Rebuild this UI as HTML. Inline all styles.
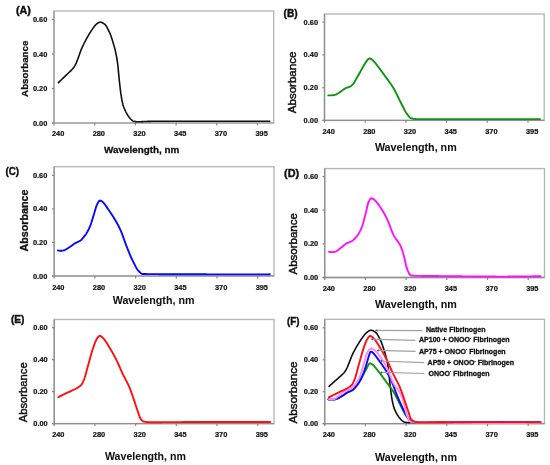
<!DOCTYPE html>
<html><head><meta charset="utf-8"><title>UV absorbance spectra of fibrinogen</title>
<style>
html,body{margin:0;padding:0;background:#fff;}
body{width:550px;height:465px;overflow:hidden;}
svg{display:block;}
text{font-family:'Liberation Sans', Arial, sans-serif;fill:#111;stroke:#111;stroke-width:0.3px;}
.tl{font-size:7.4px;font-weight:bold;stroke-width:0.2px;}
.pl{font-size:10.6px;font-weight:bold;stroke-width:0.4px;}
.lg{font-size:7px;font-weight:bold;}
</style></head>
<body>
<svg width="550" height="465" viewBox="0 0 550 465">
<rect width="550" height="465" fill="#fff"/>
<rect x="54.00" y="11.00" width="219.70" height="112.00" fill="none" stroke="#b8b8b8" stroke-width="1.4"/>
<line x1="54.00" y1="11.00" x2="54.00" y2="124.00" stroke="#a8a8a8" stroke-width="1.7"/>
<line x1="52.00" y1="123.00" x2="273.70" y2="123.00" stroke="#a8a8a8" stroke-width="1.7"/>
<line x1="51.80" y1="123.00" x2="54.00" y2="123.00" stroke="#888" stroke-width="1.2"/>
<text x="47.30" y="125.50" text-anchor="end" class="tl">0.00</text>
<line x1="51.80" y1="88.50" x2="54.00" y2="88.50" stroke="#888" stroke-width="1.2"/>
<text x="47.30" y="91.00" text-anchor="end" class="tl">0.20</text>
<line x1="51.80" y1="54.00" x2="54.00" y2="54.00" stroke="#888" stroke-width="1.2"/>
<text x="47.30" y="56.50" text-anchor="end" class="tl">0.40</text>
<line x1="51.80" y1="19.50" x2="54.00" y2="19.50" stroke="#888" stroke-width="1.2"/>
<text x="47.30" y="22.00" text-anchor="end" class="tl">0.60</text>
<line x1="54.00" y1="123.00" x2="54.00" y2="125.40" stroke="#888" stroke-width="1.2"/>
<text x="58.10" y="136.10" text-anchor="middle" class="tl">240</text>
<line x1="94.70" y1="123.00" x2="94.70" y2="125.40" stroke="#888" stroke-width="1.2"/>
<text x="98.80" y="136.10" text-anchor="middle" class="tl">280</text>
<line x1="135.40" y1="123.00" x2="135.40" y2="125.40" stroke="#888" stroke-width="1.2"/>
<text x="139.50" y="136.10" text-anchor="middle" class="tl">320</text>
<line x1="176.10" y1="123.00" x2="176.10" y2="125.40" stroke="#888" stroke-width="1.2"/>
<text x="180.20" y="136.10" text-anchor="middle" class="tl">345</text>
<line x1="216.80" y1="123.00" x2="216.80" y2="125.40" stroke="#888" stroke-width="1.2"/>
<text x="220.90" y="136.10" text-anchor="middle" class="tl">370</text>
<line x1="257.50" y1="123.00" x2="257.50" y2="125.40" stroke="#888" stroke-width="1.2"/>
<text x="261.60" y="136.10" text-anchor="middle" class="tl">395</text>

<path d="M58.40,82.63 L58.90,82.15 L59.40,81.67 L59.90,81.19 L60.40,80.71 L60.90,80.23 L61.40,79.75 L61.90,79.27 L62.40,78.79 L62.90,78.31 L63.40,77.83 L63.90,77.35 L64.40,76.87 L64.90,76.39 L65.40,75.91 L65.90,75.43 L66.40,74.95 L66.90,74.48 L67.40,74.00 L67.90,73.52 L68.40,73.04 L68.90,72.55 L69.40,72.07 L69.90,71.59 L70.40,71.11 L70.90,70.62 L71.40,70.12 L71.90,69.61 L72.40,69.07 L72.90,68.49 L73.40,67.85 L73.90,67.17 L74.40,66.44 L74.90,65.63 L75.40,64.71 L75.90,63.70 L76.40,62.59 L76.90,61.37 L77.40,60.08 L77.90,58.74 L78.40,57.39 L78.90,56.05 L79.40,54.65 L79.90,53.21 L80.40,51.78 L80.90,50.42 L81.40,49.17 L81.90,48.01 L82.40,46.90 L82.90,45.81 L83.40,44.76 L83.90,43.74 L84.40,42.75 L84.90,41.78 L85.40,40.83 L85.90,39.90 L86.40,38.98 L86.90,38.08 L87.40,37.18 L87.90,36.30 L88.40,35.42 L88.90,34.57 L89.40,33.73 L89.90,32.92 L90.40,32.12 L90.90,31.36 L91.40,30.61 L91.90,29.86 L92.40,29.12 L92.90,28.38 L93.40,27.66 L93.90,26.98 L94.40,26.33 L94.90,25.72 L95.40,25.17 L95.90,24.68 L96.40,24.23 L96.90,23.80 L97.40,23.40 L97.90,23.04 L98.40,22.74 L98.90,22.49 L99.40,22.31 L99.90,22.21 L100.40,22.19 L100.90,22.25 L101.40,22.37 L101.90,22.55 L102.40,22.78 L102.90,23.05 L103.40,23.36 L103.90,23.69 L104.40,24.04 L104.90,24.41 L105.40,24.88 L105.90,25.50 L106.40,26.25 L106.90,27.10 L107.40,28.03 L107.90,29.03 L108.40,30.06 L108.90,31.13 L109.40,32.19 L109.90,33.27 L110.40,34.47 L110.90,35.80 L111.40,37.24 L111.90,38.77 L112.40,40.37 L112.90,42.01 L113.40,43.69 L113.90,45.38 L114.40,47.12 L114.90,49.02 L115.40,51.11 L115.90,53.42 L116.40,55.95 L116.90,58.74 L117.40,61.80 L117.90,65.67 L118.40,70.86 L118.90,76.44 L119.40,81.43 L119.90,85.82 L120.40,90.08 L120.90,93.97 L121.40,97.25 L121.90,99.94 L122.40,102.40 L122.90,104.54 L123.40,106.25 L123.90,107.51 L124.40,108.70 L124.90,109.85 L125.40,110.95 L125.90,112.00 L126.40,112.99 L126.90,113.91 L127.40,114.75 L127.90,115.51 L128.40,116.19 L128.90,116.86 L129.40,117.51 L129.90,118.14 L130.40,118.73 L130.90,119.27 L131.40,119.74 L131.90,120.14 L132.40,120.53 L132.90,120.90 L133.40,121.21 L133.90,121.41 L134.40,121.48 L134.90,121.54 L135.40,121.60 L135.90,121.65 L136.40,121.70 L136.90,121.74 L137.40,121.77 L137.90,121.79 L138.40,121.80 L138.90,121.80 L139.40,121.78 L139.90,121.76 L140.40,121.73 L140.90,121.71 L141.40,121.68 L141.90,121.65 L142.40,121.63 L142.90,121.60 L143.40,121.57 L143.90,121.54 L144.40,121.52 L144.90,121.50 L145.40,121.48 L145.90,121.46 L146.40,121.45 L146.90,121.44 L147.40,121.42 L147.90,121.41 L148.40,121.40 L148.90,121.38 L149.40,121.37 L149.90,121.36 L150.40,121.35 L150.90,121.33 L151.40,121.32 L151.90,121.31 L152.40,121.30 L152.90,121.30 L153.40,121.29 L153.90,121.28 L154.40,121.28 L154.90,121.28 L155.40,121.28 L155.90,121.28 L156.40,121.28 L156.90,121.28 L157.40,121.28 L157.90,121.28 L158.40,121.28 L158.90,121.28 L159.40,121.28 L159.90,121.28 L160.40,121.28 L160.90,121.28 L161.40,121.28 L161.90,121.28 L162.40,121.28 L162.90,121.28 L163.40,121.28 L163.90,121.28 L164.40,121.28 L164.90,121.28 L165.40,121.28 L165.90,121.28 L166.40,121.28 L166.90,121.28 L167.40,121.28 L167.90,121.28 L168.40,121.28 L168.90,121.28 L169.40,121.28 L169.90,121.28 L170.40,121.28 L170.90,121.28 L171.40,121.28 L171.90,121.28 L172.40,121.28 L172.90,121.28 L173.40,121.28 L173.90,121.28 L174.40,121.28 L174.90,121.28 L175.40,121.28 L175.90,121.28 L176.40,121.28 L176.90,121.28 L177.40,121.28 L177.90,121.28 L178.40,121.28 L178.90,121.28 L179.40,121.28 L179.90,121.28 L180.40,121.28 L180.90,121.28 L181.40,121.28 L181.90,121.28 L182.40,121.28 L182.90,121.28 L183.40,121.28 L183.90,121.28 L184.40,121.28 L184.90,121.28 L185.40,121.28 L185.90,121.28 L186.40,121.28 L186.90,121.28 L187.40,121.28 L187.90,121.28 L188.40,121.28 L188.90,121.28 L189.40,121.28 L189.90,121.28 L190.40,121.28 L190.90,121.28 L191.40,121.28 L191.90,121.28 L192.40,121.28 L192.90,121.28 L193.40,121.28 L193.90,121.28 L194.40,121.28 L194.90,121.28 L195.40,121.28 L195.90,121.28 L196.40,121.28 L196.90,121.28 L197.40,121.28 L197.90,121.28 L198.40,121.28 L198.90,121.28 L199.40,121.28 L199.90,121.28 L200.40,121.28 L200.90,121.28 L201.40,121.28 L201.90,121.28 L202.40,121.28 L202.90,121.28 L203.40,121.28 L203.90,121.28 L204.40,121.28 L204.90,121.28 L205.40,121.28 L205.90,121.28 L206.40,121.28 L206.90,121.28 L207.40,121.28 L207.90,121.28 L208.40,121.28 L208.90,121.28 L209.40,121.28 L209.90,121.28 L210.40,121.28 L210.90,121.28 L211.40,121.28 L211.90,121.28 L212.40,121.28 L212.90,121.28 L213.40,121.28 L213.90,121.28 L214.40,121.28 L214.90,121.28 L215.40,121.28 L215.90,121.28 L216.40,121.28 L216.90,121.28 L217.40,121.28 L217.90,121.28 L218.40,121.28 L218.90,121.28 L219.40,121.28 L219.90,121.28 L220.40,121.28 L220.90,121.28 L221.40,121.28 L221.90,121.28 L222.40,121.28 L222.90,121.28 L223.40,121.28 L223.90,121.28 L224.40,121.28 L224.90,121.28 L225.40,121.28 L225.90,121.28 L226.40,121.28 L226.90,121.28 L227.40,121.28 L227.90,121.28 L228.40,121.28 L228.90,121.28 L229.40,121.28 L229.90,121.28 L230.40,121.28 L230.90,121.28 L231.40,121.28 L231.90,121.28 L232.40,121.28 L232.90,121.28 L233.40,121.28 L233.90,121.28 L234.40,121.28 L234.90,121.28 L235.40,121.28 L235.90,121.28 L236.40,121.28 L236.90,121.28 L237.40,121.28 L237.90,121.28 L238.40,121.28 L238.90,121.28 L239.40,121.28 L239.90,121.28 L240.40,121.28 L240.90,121.28 L241.40,121.28 L241.90,121.28 L242.40,121.28 L242.90,121.28 L243.40,121.28 L243.90,121.28 L244.40,121.28 L244.90,121.28 L245.40,121.28 L245.90,121.28 L246.40,121.28 L246.90,121.28 L247.40,121.28 L247.90,121.28 L248.40,121.28 L248.90,121.28 L249.40,121.28 L249.90,121.28 L250.40,121.28 L250.90,121.28 L251.40,121.28 L251.90,121.28 L252.40,121.28 L252.90,121.28 L253.40,121.28 L253.90,121.28 L254.40,121.28 L254.90,121.28 L255.40,121.28 L255.90,121.28 L256.40,121.28 L256.90,121.28 L257.40,121.28 L257.90,121.28 L258.40,121.28 L258.90,121.28 L259.40,121.28 L259.90,121.28 L260.40,121.28 L260.90,121.28 L261.40,121.28 L261.90,121.28 L262.40,121.28 L262.90,121.28 L263.40,121.28 L263.90,121.28 L264.40,121.28 L264.90,121.28 L265.40,121.28 L265.90,121.28 L266.40,121.28 L266.90,121.28 L267.40,121.28 L267.90,121.28 L268.40,121.28 L268.90,121.28 L269.40,121.28 L269.80,121.28" fill="none" stroke="#111" stroke-width="1.6" stroke-linejoin="round" stroke-linecap="round"/>

<text x="15.90" y="13.60" class="pl" textLength="15.00" lengthAdjust="spacingAndGlyphs">(A)</text>
<text transform="translate(28.10,68.80) rotate(-90)" text-anchor="middle" style="font-size:9.70px;font-weight:bold;stroke-width:0.3px" textLength="56.20" lengthAdjust="spacingAndGlyphs">Absorbance</text>
<text x="104.00" y="153.00" style="font-size:9.80px;font-weight:bold;stroke-width:0.3px" textLength="75.30" lengthAdjust="spacingAndGlyphs">Wavelength, nm</text>
<rect x="324.50" y="14.00" width="219.70" height="106.40" fill="none" stroke="#b8b8b8" stroke-width="1.4"/>
<line x1="324.50" y1="14.00" x2="324.50" y2="121.40" stroke="#8e8e8e" stroke-width="1.3"/>
<line x1="322.50" y1="120.40" x2="544.20" y2="120.40" stroke="#8e8e8e" stroke-width="1.3"/>
<line x1="322.30" y1="120.40" x2="324.50" y2="120.40" stroke="#888" stroke-width="1.2"/>
<text x="318.00" y="122.90" text-anchor="end" class="tl">0.00</text>
<line x1="322.30" y1="87.63" x2="324.50" y2="87.63" stroke="#888" stroke-width="1.2"/>
<text x="318.00" y="90.13" text-anchor="end" class="tl">0.20</text>
<line x1="322.30" y1="54.87" x2="324.50" y2="54.87" stroke="#888" stroke-width="1.2"/>
<text x="318.00" y="57.37" text-anchor="end" class="tl">0.40</text>
<line x1="322.30" y1="22.10" x2="324.50" y2="22.10" stroke="#888" stroke-width="1.2"/>
<text x="318.00" y="24.60" text-anchor="end" class="tl">0.60</text>
<line x1="324.50" y1="120.40" x2="324.50" y2="122.80" stroke="#888" stroke-width="1.2"/>
<text x="328.60" y="134.00" text-anchor="middle" class="tl">240</text>
<line x1="365.20" y1="120.40" x2="365.20" y2="122.80" stroke="#888" stroke-width="1.2"/>
<text x="369.30" y="134.00" text-anchor="middle" class="tl">280</text>
<line x1="405.90" y1="120.40" x2="405.90" y2="122.80" stroke="#888" stroke-width="1.2"/>
<text x="410.00" y="134.00" text-anchor="middle" class="tl">320</text>
<line x1="446.60" y1="120.40" x2="446.60" y2="122.80" stroke="#888" stroke-width="1.2"/>
<text x="450.70" y="134.00" text-anchor="middle" class="tl">345</text>
<line x1="487.30" y1="120.40" x2="487.30" y2="122.80" stroke="#888" stroke-width="1.2"/>
<text x="491.40" y="134.00" text-anchor="middle" class="tl">370</text>
<line x1="528.00" y1="120.40" x2="528.00" y2="122.80" stroke="#888" stroke-width="1.2"/>
<text x="532.10" y="134.00" text-anchor="middle" class="tl">395</text>

<path d="M328.30,95.33 L328.80,95.37 L329.30,95.39 L329.80,95.41 L330.30,95.40 L330.80,95.39 L331.30,95.36 L331.80,95.32 L332.30,95.27 L332.80,95.21 L333.30,95.13 L333.80,95.05 L334.30,94.95 L334.80,94.84 L335.30,94.70 L335.80,94.51 L336.30,94.29 L336.80,94.03 L337.30,93.76 L337.80,93.48 L338.30,93.19 L338.80,92.88 L339.30,92.55 L339.80,92.21 L340.30,91.86 L340.80,91.51 L341.30,91.17 L341.80,90.82 L342.30,90.46 L342.80,90.10 L343.30,89.74 L343.80,89.38 L344.30,89.03 L344.80,88.71 L345.30,88.40 L345.80,88.13 L346.30,87.90 L346.80,87.71 L347.30,87.54 L347.80,87.39 L348.30,87.23 L348.80,87.07 L349.30,86.88 L349.80,86.65 L350.30,86.38 L350.80,86.08 L351.30,85.73 L351.80,85.33 L352.30,84.89 L352.80,84.40 L353.30,83.84 L353.80,83.15 L354.30,82.35 L354.80,81.48 L355.30,80.57 L355.80,79.66 L356.30,78.79 L356.80,77.93 L357.30,77.06 L357.80,76.19 L358.30,75.31 L358.80,74.43 L359.30,73.54 L359.80,72.66 L360.30,71.78 L360.80,70.90 L361.30,70.01 L361.80,69.10 L362.30,68.20 L362.80,67.29 L363.30,66.40 L363.80,65.53 L364.30,64.68 L364.80,63.87 L365.30,63.08 L365.80,62.28 L366.30,61.50 L366.80,60.77 L367.30,60.12 L367.80,59.56 L368.30,59.13 L368.80,58.76 L369.30,58.52 L369.80,58.48 L370.30,58.60 L370.80,58.82 L371.30,59.11 L371.80,59.47 L372.30,59.86 L372.80,60.29 L373.30,60.76 L373.80,61.27 L374.30,61.82 L374.80,62.40 L375.30,63.01 L375.80,63.64 L376.30,64.28 L376.80,64.94 L377.30,65.59 L377.80,66.25 L378.30,66.90 L378.80,67.54 L379.30,68.19 L379.80,68.85 L380.30,69.52 L380.80,70.20 L381.30,70.88 L381.80,71.57 L382.30,72.26 L382.80,72.96 L383.30,73.65 L383.80,74.35 L384.30,75.06 L384.80,75.75 L385.30,76.45 L385.80,77.15 L386.30,77.84 L386.80,78.52 L387.30,79.19 L387.80,79.86 L388.30,80.53 L388.80,81.20 L389.30,81.87 L389.80,82.56 L390.30,83.25 L390.80,83.96 L391.30,84.68 L391.80,85.43 L392.30,86.19 L392.80,86.98 L393.30,87.80 L393.80,88.66 L394.30,89.56 L394.80,90.49 L395.30,91.45 L395.80,92.43 L396.30,93.43 L396.80,94.45 L397.30,95.47 L397.80,96.50 L398.30,97.53 L398.80,98.55 L399.30,99.56 L399.80,100.56 L400.30,101.53 L400.80,102.50 L401.30,103.49 L401.80,104.50 L402.30,105.51 L402.80,106.53 L403.30,107.53 L403.80,108.53 L404.30,109.49 L404.80,110.43 L405.30,111.32 L405.80,112.16 L406.30,112.94 L406.80,113.66 L407.30,114.36 L407.80,115.04 L408.30,115.71 L408.80,116.33 L409.30,116.89 L409.80,117.38 L410.30,117.79 L410.80,118.09 L411.30,118.27 L411.80,118.39 L412.30,118.50 L412.80,118.61 L413.30,118.71 L413.80,118.80 L414.30,118.88 L414.80,118.96 L415.30,119.01 L415.80,119.06 L416.30,119.08 L416.80,119.09 L417.30,119.09 L417.80,119.09 L418.30,119.09 L418.80,119.09 L419.30,119.09 L419.80,119.09 L420.30,119.09 L420.80,119.09 L421.30,119.09 L421.80,119.09 L422.30,119.09 L422.80,119.09 L423.30,119.09 L423.80,119.09 L424.30,119.09 L424.80,119.09 L425.30,119.09 L425.80,119.09 L426.30,119.09 L426.80,119.09 L427.30,119.09 L427.80,119.09 L428.30,119.09 L428.80,119.09 L429.30,119.09 L429.80,119.09 L430.30,119.09 L430.80,119.09 L431.30,119.09 L431.80,119.09 L432.30,119.09 L432.80,119.09 L433.30,119.09 L433.80,119.09 L434.30,119.09 L434.80,119.09 L435.30,119.09 L435.80,119.09 L436.30,119.09 L436.80,119.09 L437.30,119.09 L437.80,119.09 L438.30,119.09 L438.80,119.09 L439.30,119.09 L439.80,119.09 L440.30,119.09 L440.80,119.09 L441.30,119.09 L441.80,119.09 L442.30,119.09 L442.80,119.09 L443.30,119.09 L443.80,119.09 L444.30,119.09 L444.80,119.09 L445.30,119.09 L445.80,119.09 L446.30,119.09 L446.80,119.09 L447.30,119.09 L447.80,119.09 L448.30,119.09 L448.80,119.09 L449.30,119.09 L449.80,119.09 L450.30,119.09 L450.80,119.09 L451.30,119.09 L451.80,119.09 L452.30,119.09 L452.80,119.09 L453.30,119.09 L453.80,119.09 L454.30,119.09 L454.80,119.09 L455.30,119.09 L455.80,119.09 L456.30,119.09 L456.80,119.09 L457.30,119.09 L457.80,119.09 L458.30,119.09 L458.80,119.09 L459.30,119.09 L459.80,119.09 L460.30,119.09 L460.80,119.09 L461.30,119.09 L461.80,119.09 L462.30,119.09 L462.80,119.09 L463.30,119.09 L463.80,119.09 L464.30,119.09 L464.80,119.09 L465.30,119.09 L465.80,119.09 L466.30,119.09 L466.80,119.09 L467.30,119.09 L467.80,119.09 L468.30,119.09 L468.80,119.09 L469.30,119.09 L469.80,119.09 L470.30,119.09 L470.80,119.09 L471.30,119.09 L471.80,119.09 L472.30,119.09 L472.80,119.09 L473.30,119.09 L473.80,119.09 L474.30,119.09 L474.80,119.09 L475.30,119.09 L475.80,119.09 L476.30,119.09 L476.80,119.09 L477.30,119.09 L477.80,119.09 L478.30,119.09 L478.80,119.09 L479.30,119.09 L479.80,119.09 L480.30,119.09 L480.80,119.09 L481.30,119.09 L481.80,119.09 L482.30,119.09 L482.80,119.09 L483.30,119.09 L483.80,119.09 L484.30,119.09 L484.80,119.09 L485.30,119.09 L485.80,119.09 L486.30,119.09 L486.80,119.09 L487.30,119.09 L487.80,119.09 L488.30,119.09 L488.80,119.09 L489.30,119.09 L489.80,119.09 L490.30,119.09 L490.80,119.09 L491.30,119.09 L491.80,119.09 L492.30,119.09 L492.80,119.09 L493.30,119.09 L493.80,119.09 L494.30,119.09 L494.80,119.09 L495.30,119.09 L495.80,119.09 L496.30,119.09 L496.80,119.09 L497.30,119.09 L497.80,119.09 L498.30,119.09 L498.80,119.09 L499.30,119.09 L499.80,119.09 L500.30,119.09 L500.80,119.09 L501.30,119.09 L501.80,119.09 L502.30,119.09 L502.80,119.09 L503.30,119.09 L503.80,119.09 L504.30,119.09 L504.80,119.09 L505.30,119.09 L505.80,119.09 L506.30,119.09 L506.80,119.09 L507.30,119.09 L507.80,119.09 L508.30,119.09 L508.80,119.09 L509.30,119.09 L509.80,119.09 L510.30,119.09 L510.80,119.09 L511.30,119.09 L511.80,119.09 L512.30,119.09 L512.80,119.09 L513.30,119.09 L513.80,119.09 L514.30,119.09 L514.80,119.09 L515.30,119.09 L515.80,119.09 L516.30,119.09 L516.80,119.09 L517.30,119.09 L517.80,119.09 L518.30,119.09 L518.80,119.09 L519.30,119.09 L519.80,119.09 L520.30,119.09 L520.80,119.09 L521.30,119.09 L521.80,119.09 L522.30,119.09 L522.80,119.09 L523.30,119.09 L523.80,119.09 L524.30,119.09 L524.80,119.09 L525.30,119.09 L525.80,119.09 L526.30,119.09 L526.80,119.09 L527.30,119.09 L527.80,119.09 L528.30,119.09 L528.80,119.09 L529.30,119.09 L529.80,119.09 L530.30,119.09 L530.80,119.09 L531.30,119.09 L531.80,119.09 L532.30,119.09 L532.80,119.09 L533.30,119.09 L533.80,119.09 L534.30,119.09 L534.80,119.09 L535.30,119.09 L535.80,119.09 L536.30,119.09 L536.80,119.09 L537.30,119.09 L537.80,119.09 L538.30,119.09 L538.80,119.09 L539.30,119.09 L539.80,119.09 L540.00,119.09" fill="none" stroke="#109410" stroke-width="1.9" stroke-linejoin="round" stroke-linecap="round"/>

<text x="283.60" y="16.80" class="pl" textLength="14.10" lengthAdjust="spacingAndGlyphs">(B)</text>
<text transform="translate(296.40,82.45) rotate(-90)" text-anchor="middle" style="font-size:11.50px;font-weight:normal;stroke-width:0.45px" textLength="61.50" lengthAdjust="spacingAndGlyphs">Absorbance</text>
<text x="374.90" y="151.30" style="font-size:10.70px;font-weight:bold;stroke-width:0.05px" textLength="81.80" lengthAdjust="spacingAndGlyphs">Wavelength, nm</text>
<rect x="54.20" y="166.70" width="219.80" height="109.30" fill="none" stroke="#b8b8b8" stroke-width="1.4"/>
<line x1="54.20" y1="166.70" x2="54.20" y2="277.00" stroke="#9c9c9c" stroke-width="1.5"/>
<line x1="52.20" y1="276.00" x2="274.00" y2="276.00" stroke="#9c9c9c" stroke-width="1.5"/>
<line x1="52.00" y1="276.00" x2="54.20" y2="276.00" stroke="#888" stroke-width="1.2"/>
<text x="47.30" y="278.50" text-anchor="end" class="tl">0.00</text>
<line x1="52.00" y1="242.47" x2="54.20" y2="242.47" stroke="#888" stroke-width="1.2"/>
<text x="47.30" y="244.97" text-anchor="end" class="tl">0.20</text>
<line x1="52.00" y1="208.93" x2="54.20" y2="208.93" stroke="#888" stroke-width="1.2"/>
<text x="47.30" y="211.43" text-anchor="end" class="tl">0.40</text>
<line x1="52.00" y1="175.40" x2="54.20" y2="175.40" stroke="#888" stroke-width="1.2"/>
<text x="47.30" y="177.90" text-anchor="end" class="tl">0.60</text>
<line x1="54.20" y1="276.00" x2="54.20" y2="278.40" stroke="#888" stroke-width="1.2"/>
<text x="58.30" y="289.80" text-anchor="middle" class="tl">240</text>
<line x1="94.90" y1="276.00" x2="94.90" y2="278.40" stroke="#888" stroke-width="1.2"/>
<text x="99.00" y="289.80" text-anchor="middle" class="tl">280</text>
<line x1="135.60" y1="276.00" x2="135.60" y2="278.40" stroke="#888" stroke-width="1.2"/>
<text x="139.70" y="289.80" text-anchor="middle" class="tl">320</text>
<line x1="176.30" y1="276.00" x2="176.30" y2="278.40" stroke="#888" stroke-width="1.2"/>
<text x="180.40" y="289.80" text-anchor="middle" class="tl">345</text>
<line x1="217.00" y1="276.00" x2="217.00" y2="278.40" stroke="#888" stroke-width="1.2"/>
<text x="221.10" y="289.80" text-anchor="middle" class="tl">370</text>
<line x1="257.70" y1="276.00" x2="257.70" y2="278.40" stroke="#888" stroke-width="1.2"/>
<text x="261.80" y="289.80" text-anchor="middle" class="tl">395</text>

<path d="M57.90,250.51 L58.40,250.59 L58.90,250.66 L59.40,250.71 L59.90,250.75 L60.40,250.76 L60.90,250.76 L61.40,250.74 L61.90,250.70 L62.40,250.63 L62.90,250.54 L63.40,250.43 L63.90,250.29 L64.40,250.11 L64.90,249.90 L65.40,249.66 L65.90,249.40 L66.40,249.12 L66.90,248.82 L67.40,248.50 L67.90,248.19 L68.40,247.86 L68.90,247.54 L69.40,247.22 L69.90,246.91 L70.40,246.57 L70.90,246.23 L71.40,245.87 L71.90,245.51 L72.40,245.15 L72.90,244.78 L73.40,244.42 L73.90,244.07 L74.40,243.72 L74.90,243.39 L75.40,243.08 L75.90,242.79 L76.40,242.55 L76.90,242.32 L77.40,242.11 L77.90,241.90 L78.40,241.69 L78.90,241.46 L79.40,241.21 L79.90,240.92 L80.40,240.58 L80.90,240.18 L81.40,239.72 L81.90,239.22 L82.40,238.67 L82.90,238.08 L83.40,237.47 L83.90,236.84 L84.40,236.20 L84.90,235.55 L85.40,234.89 L85.90,234.18 L86.40,233.41 L86.90,232.60 L87.40,231.73 L87.90,230.81 L88.40,229.84 L88.90,228.82 L89.40,227.76 L89.90,226.65 L90.40,225.40 L90.90,224.02 L91.40,222.53 L91.90,220.96 L92.40,219.35 L92.90,217.71 L93.40,216.09 L93.90,214.49 L94.40,212.76 L94.90,210.94 L95.40,209.15 L95.90,207.48 L96.40,206.06 L96.90,204.91 L97.40,203.82 L97.90,202.82 L98.40,201.95 L98.90,201.25 L99.40,200.77 L99.90,200.56 L100.40,200.58 L100.90,200.72 L101.40,200.96 L101.90,201.28 L102.40,201.68 L102.90,202.15 L103.40,202.67 L103.90,203.24 L104.40,203.86 L104.90,204.52 L105.40,205.20 L105.90,205.91 L106.40,206.64 L106.90,207.37 L107.40,208.11 L107.90,208.84 L108.40,209.55 L108.90,210.27 L109.40,210.99 L109.90,211.72 L110.40,212.45 L110.90,213.19 L111.40,213.93 L111.90,214.69 L112.40,215.45 L112.90,216.23 L113.40,217.02 L113.90,217.82 L114.40,218.64 L114.90,219.47 L115.40,220.32 L115.90,221.18 L116.40,222.06 L116.90,222.96 L117.40,223.88 L117.90,224.82 L118.40,225.78 L118.90,226.77 L119.40,227.79 L119.90,228.83 L120.40,229.90 L120.90,231.01 L121.40,232.20 L121.90,233.47 L122.40,234.80 L122.90,236.18 L123.40,237.58 L123.90,239.01 L124.40,240.44 L124.90,241.86 L125.40,243.25 L125.90,244.61 L126.40,245.90 L126.90,247.16 L127.40,248.41 L127.90,249.65 L128.40,250.89 L128.90,252.12 L129.40,253.34 L129.90,254.53 L130.40,255.71 L130.90,256.87 L131.40,257.99 L131.90,259.09 L132.40,260.16 L132.90,261.18 L133.40,262.18 L133.90,263.17 L134.40,264.17 L134.90,265.15 L135.40,266.10 L135.90,267.03 L136.40,267.90 L136.90,268.72 L137.40,269.48 L137.90,270.16 L138.40,270.76 L138.90,271.28 L139.40,271.80 L139.90,272.30 L140.40,272.77 L140.90,273.19 L141.40,273.54 L141.90,273.80 L142.40,273.96 L142.90,273.99 L143.40,274.00 L143.90,274.01 L144.40,274.03 L144.90,274.04 L145.40,274.05 L145.90,274.06 L146.40,274.07 L146.90,274.08 L147.40,274.08 L147.90,274.09 L148.40,274.10 L148.90,274.11 L149.40,274.12 L149.90,274.12 L150.40,274.13 L150.90,274.14 L151.40,274.14 L151.90,274.15 L152.40,274.15 L152.90,274.15 L153.40,274.15 L153.90,274.16 L154.40,274.16 L154.90,274.16 L155.40,274.16 L155.90,274.16 L156.40,274.17 L156.90,274.17 L157.40,274.17 L157.90,274.17 L158.40,274.17 L158.90,274.17 L159.40,274.18 L159.90,274.18 L160.40,274.18 L160.90,274.18 L161.40,274.18 L161.90,274.19 L162.40,274.19 L162.90,274.19 L163.40,274.19 L163.90,274.19 L164.40,274.20 L164.90,274.20 L165.40,274.20 L165.90,274.20 L166.40,274.20 L166.90,274.21 L167.40,274.21 L167.90,274.21 L168.40,274.21 L168.90,274.22 L169.40,274.22 L169.90,274.22 L170.40,274.22 L170.90,274.22 L171.40,274.23 L171.90,274.23 L172.40,274.23 L172.90,274.23 L173.40,274.23 L173.90,274.24 L174.40,274.24 L174.90,274.24 L175.40,274.24 L175.90,274.24 L176.40,274.25 L176.90,274.25 L177.40,274.25 L177.90,274.25 L178.40,274.25 L178.90,274.26 L179.40,274.26 L179.90,274.26 L180.40,274.26 L180.90,274.26 L181.40,274.27 L181.90,274.27 L182.40,274.27 L182.90,274.27 L183.40,274.27 L183.90,274.28 L184.40,274.28 L184.90,274.28 L185.40,274.28 L185.90,274.28 L186.40,274.28 L186.90,274.29 L187.40,274.29 L187.90,274.29 L188.40,274.29 L188.90,274.29 L189.40,274.29 L189.90,274.30 L190.40,274.30 L190.90,274.30 L191.40,274.30 L191.90,274.30 L192.40,274.30 L192.90,274.30 L193.40,274.31 L193.90,274.31 L194.40,274.31 L194.90,274.31 L195.40,274.31 L195.90,274.31 L196.40,274.31 L196.90,274.31 L197.40,274.31 L197.90,274.32 L198.40,274.32 L198.90,274.32 L199.40,274.32 L199.90,274.32 L200.40,274.32 L200.90,274.32 L201.40,274.32 L201.90,274.32 L202.40,274.32 L202.90,274.32 L203.40,274.32 L203.90,274.32 L204.40,274.32 L204.90,274.32 L205.40,274.32 L205.90,274.32 L206.40,274.32 L206.90,274.33 L207.40,274.33 L207.90,274.33 L208.40,274.33 L208.90,274.33 L209.40,274.33 L209.90,274.33 L210.40,274.33 L210.90,274.33 L211.40,274.33 L211.90,274.33 L212.40,274.33 L212.90,274.33 L213.40,274.33 L213.90,274.33 L214.40,274.33 L214.90,274.33 L215.40,274.33 L215.90,274.33 L216.40,274.33 L216.90,274.33 L217.40,274.33 L217.90,274.33 L218.40,274.33 L218.90,274.33 L219.40,274.33 L219.90,274.33 L220.40,274.33 L220.90,274.33 L221.40,274.33 L221.90,274.33 L222.40,274.33 L222.90,274.33 L223.40,274.33 L223.90,274.33 L224.40,274.33 L224.90,274.33 L225.40,274.34 L225.90,274.34 L226.40,274.34 L226.90,274.34 L227.40,274.34 L227.90,274.34 L228.40,274.34 L228.90,274.34 L229.40,274.34 L229.90,274.34 L230.40,274.34 L230.90,274.34 L231.40,274.34 L231.90,274.34 L232.40,274.34 L232.90,274.34 L233.40,274.34 L233.90,274.34 L234.40,274.34 L234.90,274.34 L235.40,274.34 L235.90,274.34 L236.40,274.34 L236.90,274.34 L237.40,274.34 L237.90,274.34 L238.40,274.34 L238.90,274.34 L239.40,274.34 L239.90,274.34 L240.40,274.34 L240.90,274.34 L241.40,274.34 L241.90,274.34 L242.40,274.34 L242.90,274.34 L243.40,274.34 L243.90,274.34 L244.40,274.34 L244.90,274.34 L245.40,274.34 L245.90,274.34 L246.40,274.34 L246.90,274.34 L247.40,274.34 L247.90,274.34 L248.40,274.34 L248.90,274.34 L249.40,274.34 L249.90,274.34 L250.40,274.34 L250.90,274.34 L251.40,274.34 L251.90,274.34 L252.40,274.34 L252.90,274.34 L253.40,274.34 L253.90,274.34 L254.40,274.34 L254.90,274.34 L255.40,274.34 L255.90,274.34 L256.40,274.34 L256.90,274.33 L257.40,274.33 L257.90,274.33 L258.40,274.33 L258.90,274.33 L259.40,274.33 L259.90,274.33 L260.40,274.33 L260.90,274.33 L261.40,274.33 L261.90,274.33 L262.40,274.33 L262.90,274.33 L263.40,274.33 L263.90,274.33 L264.40,274.33 L264.90,274.33 L265.40,274.33 L265.90,274.33 L266.40,274.33 L266.90,274.33 L267.40,274.33 L267.90,274.33 L268.40,274.33 L268.90,274.32 L269.40,274.32 L269.80,274.32" fill="none" stroke="#0a0af8" stroke-width="1.9" stroke-linejoin="round" stroke-linecap="round"/>

<text x="5.50" y="175.00" class="pl" textLength="13.60" lengthAdjust="spacingAndGlyphs">(C)</text>
<text transform="translate(27.60,220.50) rotate(-90)" text-anchor="middle" style="font-size:10.70px;font-weight:bold;stroke-width:0.3px" textLength="62.10" lengthAdjust="spacingAndGlyphs">Absorbance</text>
<text x="112.70" y="303.70" style="font-size:10.70px;font-weight:bold;stroke-width:0.05px" textLength="81.80" lengthAdjust="spacingAndGlyphs">Wavelength, nm</text>
<rect x="324.70" y="168.60" width="219.80" height="108.90" fill="none" stroke="#b8b8b8" stroke-width="1.4"/>
<line x1="324.70" y1="168.60" x2="324.70" y2="278.50" stroke="#8e8e8e" stroke-width="1.3"/>
<line x1="322.70" y1="277.50" x2="544.50" y2="277.50" stroke="#8e8e8e" stroke-width="1.3"/>
<line x1="322.50" y1="277.50" x2="324.70" y2="277.50" stroke="#888" stroke-width="1.2"/>
<text x="318.20" y="280.00" text-anchor="end" class="tl">0.00</text>
<line x1="322.50" y1="243.83" x2="324.70" y2="243.83" stroke="#888" stroke-width="1.2"/>
<text x="318.20" y="246.33" text-anchor="end" class="tl">0.20</text>
<line x1="322.50" y1="210.17" x2="324.70" y2="210.17" stroke="#888" stroke-width="1.2"/>
<text x="318.20" y="212.67" text-anchor="end" class="tl">0.40</text>
<line x1="322.50" y1="176.50" x2="324.70" y2="176.50" stroke="#888" stroke-width="1.2"/>
<text x="318.20" y="179.00" text-anchor="end" class="tl">0.60</text>
<line x1="324.70" y1="277.50" x2="324.70" y2="279.90" stroke="#888" stroke-width="1.2"/>
<text x="328.80" y="290.60" text-anchor="middle" class="tl">240</text>
<line x1="365.40" y1="277.50" x2="365.40" y2="279.90" stroke="#888" stroke-width="1.2"/>
<text x="369.50" y="290.60" text-anchor="middle" class="tl">280</text>
<line x1="406.10" y1="277.50" x2="406.10" y2="279.90" stroke="#888" stroke-width="1.2"/>
<text x="410.20" y="290.60" text-anchor="middle" class="tl">320</text>
<line x1="446.80" y1="277.50" x2="446.80" y2="279.90" stroke="#888" stroke-width="1.2"/>
<text x="450.90" y="290.60" text-anchor="middle" class="tl">345</text>
<line x1="487.50" y1="277.50" x2="487.50" y2="279.90" stroke="#888" stroke-width="1.2"/>
<text x="491.60" y="290.60" text-anchor="middle" class="tl">370</text>
<line x1="528.20" y1="277.50" x2="528.20" y2="279.90" stroke="#888" stroke-width="1.2"/>
<text x="532.30" y="290.60" text-anchor="middle" class="tl">395</text>

<path d="M329.00,251.75 L329.50,251.85 L330.00,251.93 L330.50,252.01 L331.00,252.06 L331.50,252.10 L332.00,252.11 L332.50,252.11 L333.00,252.08 L333.50,252.03 L334.00,251.96 L334.50,251.85 L335.00,251.72 L335.50,251.56 L336.00,251.37 L336.50,251.12 L337.00,250.83 L337.50,250.50 L338.00,250.13 L338.50,249.74 L339.00,249.34 L339.50,248.92 L340.00,248.51 L340.50,248.11 L341.00,247.72 L341.50,247.32 L342.00,246.90 L342.50,246.47 L343.00,246.04 L343.50,245.62 L344.00,245.20 L344.50,244.79 L345.00,244.40 L345.50,244.04 L346.00,243.70 L346.50,243.41 L347.00,243.16 L347.50,242.93 L348.00,242.73 L348.50,242.54 L349.00,242.35 L349.50,242.17 L350.00,241.97 L350.50,241.76 L351.00,241.53 L351.50,241.26 L352.00,240.95 L352.50,240.60 L353.00,240.20 L353.50,239.77 L354.00,239.30 L354.50,238.81 L355.00,238.29 L355.50,237.76 L356.00,237.21 L356.50,236.65 L357.00,236.08 L357.50,235.43 L358.00,234.71 L358.50,233.93 L359.00,233.07 L359.50,232.15 L360.00,231.18 L360.50,230.14 L361.00,229.05 L361.50,227.91 L362.00,226.66 L362.50,225.20 L363.00,223.57 L363.50,221.80 L364.00,219.95 L364.50,218.04 L365.00,216.13 L365.50,214.24 L366.00,212.28 L366.50,210.08 L367.00,207.79 L367.50,205.60 L368.00,203.66 L368.50,202.15 L369.00,201.06 L369.50,200.08 L370.00,199.26 L370.50,198.64 L371.00,198.28 L371.50,198.22 L372.00,198.35 L372.50,198.56 L373.00,198.83 L373.50,199.15 L374.00,199.53 L374.50,199.95 L375.00,200.41 L375.50,200.91 L376.00,201.44 L376.50,202.00 L377.00,202.60 L377.50,203.23 L378.00,203.89 L378.50,204.57 L379.00,205.27 L379.50,205.98 L380.00,206.72 L380.50,207.46 L381.00,208.21 L381.50,208.97 L382.00,209.75 L382.50,210.56 L383.00,211.39 L383.50,212.25 L384.00,213.13 L384.50,214.04 L385.00,214.97 L385.50,215.92 L386.00,216.90 L386.50,217.90 L387.00,218.93 L387.50,219.97 L388.00,221.10 L388.50,222.30 L389.00,223.57 L389.50,224.89 L390.00,226.24 L390.50,227.60 L391.00,228.96 L391.50,230.29 L392.00,231.57 L392.50,232.79 L393.00,233.94 L393.50,234.98 L394.00,235.93 L394.50,236.79 L395.00,237.58 L395.50,238.31 L396.00,239.01 L396.50,239.68 L397.00,240.34 L397.50,241.01 L398.00,241.70 L398.50,242.42 L399.00,243.20 L399.50,244.04 L400.00,244.95 L400.50,245.98 L401.00,247.13 L401.50,248.41 L402.00,249.79 L402.50,251.26 L403.00,252.80 L403.50,254.45 L404.00,256.40 L404.50,258.56 L405.00,260.82 L405.50,263.08 L406.00,265.23 L406.50,267.15 L407.00,268.73 L407.50,269.97 L408.00,271.13 L408.50,272.22 L409.00,273.21 L409.50,274.07 L410.00,274.75 L410.50,275.23 L411.00,275.46 L411.50,275.52 L412.00,275.57 L412.50,275.62 L413.00,275.67 L413.50,275.72 L414.00,275.76 L414.50,275.80 L415.00,275.83 L415.50,275.86 L416.00,275.88 L416.50,275.89 L417.00,275.90 L417.50,275.90 L418.00,275.91 L418.50,275.91 L419.00,275.91 L419.50,275.91 L420.00,275.92 L420.50,275.92 L421.00,275.92 L421.50,275.93 L422.00,275.93 L422.50,275.93 L423.00,275.94 L423.50,275.94 L424.00,275.94 L424.50,275.95 L425.00,275.95 L425.50,275.95 L426.00,275.96 L426.50,275.96 L427.00,275.97 L427.50,275.97 L428.00,275.97 L428.50,275.98 L429.00,275.98 L429.50,275.99 L430.00,275.99 L430.50,275.99 L431.00,276.00 L431.50,276.00 L432.00,276.01 L432.50,276.01 L433.00,276.02 L433.50,276.02 L434.00,276.03 L434.50,276.03 L435.00,276.03 L435.50,276.04 L436.00,276.04 L436.50,276.05 L437.00,276.05 L437.50,276.06 L438.00,276.06 L438.50,276.07 L439.00,276.07 L439.50,276.08 L440.00,276.08 L440.50,276.09 L441.00,276.09 L441.50,276.10 L442.00,276.10 L442.50,276.11 L443.00,276.11 L443.50,276.12 L444.00,276.13 L444.50,276.13 L445.00,276.14 L445.50,276.14 L446.00,276.15 L446.50,276.15 L447.00,276.16 L447.50,276.16 L448.00,276.17 L448.50,276.17 L449.00,276.18 L449.50,276.18 L450.00,276.19 L450.50,276.20 L451.00,276.20 L451.50,276.21 L452.00,276.21 L452.50,276.22 L453.00,276.22 L453.50,276.23 L454.00,276.23 L454.50,276.24 L455.00,276.25 L455.50,276.25 L456.00,276.26 L456.50,276.26 L457.00,276.27 L457.50,276.27 L458.00,276.28 L458.50,276.28 L459.00,276.29 L459.50,276.29 L460.00,276.30 L460.50,276.30 L461.00,276.31 L461.50,276.32 L462.00,276.32 L462.50,276.33 L463.00,276.33 L463.50,276.34 L464.00,276.34 L464.50,276.35 L465.00,276.35 L465.50,276.36 L466.00,276.36 L466.50,276.37 L467.00,276.37 L467.50,276.38 L468.00,276.38 L468.50,276.39 L469.00,276.39 L469.50,276.40 L470.00,276.40 L470.50,276.41 L471.00,276.41 L471.50,276.42 L472.00,276.42 L472.50,276.43 L473.00,276.43 L473.50,276.44 L474.00,276.44 L474.50,276.44 L475.00,276.45 L475.50,276.45 L476.00,276.46 L476.50,276.46 L477.00,276.47 L477.50,276.47 L478.00,276.47 L478.50,276.48 L479.00,276.48 L479.50,276.49 L480.00,276.49 L480.50,276.49 L481.00,276.50 L481.50,276.50 L482.00,276.50 L482.50,276.51 L483.00,276.51 L483.50,276.52 L484.00,276.52 L484.50,276.52 L485.00,276.53 L485.50,276.53 L486.00,276.53 L486.50,276.53 L487.00,276.54 L487.50,276.54 L488.00,276.54 L488.50,276.55 L489.00,276.55 L489.50,276.55 L490.00,276.55 L490.50,276.55 L491.00,276.56 L491.50,276.56 L492.00,276.56 L492.50,276.56 L493.00,276.57 L493.50,276.57 L494.00,276.57 L494.50,276.57 L495.00,276.57 L495.50,276.57 L496.00,276.57 L496.50,276.58 L497.00,276.58 L497.50,276.58 L498.00,276.58 L498.50,276.58 L499.00,276.58 L499.50,276.58 L500.00,276.58 L500.50,276.58 L501.00,276.58 L501.50,276.58 L502.00,276.58 L502.50,276.58 L503.00,276.58 L503.50,276.58 L504.00,276.58 L504.50,276.58 L505.00,276.58 L505.50,276.58 L506.00,276.58 L506.50,276.58 L507.00,276.58 L507.50,276.57 L508.00,276.57 L508.50,276.57 L509.00,276.57 L509.50,276.57 L510.00,276.57 L510.50,276.56 L511.00,276.56 L511.50,276.56 L512.00,276.56 L512.50,276.55 L513.00,276.55 L513.50,276.55 L514.00,276.55 L514.50,276.54 L515.00,276.54 L515.50,276.54 L516.00,276.53 L516.50,276.53 L517.00,276.52 L517.50,276.52 L518.00,276.52 L518.50,276.51 L519.00,276.51 L519.50,276.50 L520.00,276.50 L520.50,276.49 L521.00,276.49 L521.50,276.48 L522.00,276.48 L522.50,276.47 L523.00,276.47 L523.50,276.46 L524.00,276.45 L524.50,276.45 L525.00,276.44 L525.50,276.44 L526.00,276.43 L526.50,276.42 L527.00,276.41 L527.50,276.41 L528.00,276.40 L528.50,276.39 L529.00,276.38 L529.50,276.38 L530.00,276.37 L530.50,276.36 L531.00,276.35 L531.50,276.34 L532.00,276.33 L532.50,276.33 L533.00,276.32 L533.50,276.31 L534.00,276.30 L534.50,276.29 L535.00,276.28 L535.50,276.27 L536.00,276.26 L536.50,276.25 L537.00,276.24 L537.50,276.23 L538.00,276.21 L538.50,276.20 L539.00,276.19 L539.50,276.18 L540.00,276.17 L540.50,276.16 L540.60,276.15" fill="none" stroke="#ff10ff" stroke-width="1.9" stroke-linejoin="round" stroke-linecap="round"/>

<text x="284.10" y="177.40" class="pl" textLength="15.10" lengthAdjust="spacingAndGlyphs">(D)</text>
<text transform="translate(297.00,243.85) rotate(-90)" text-anchor="middle" style="font-size:11.50px;font-weight:normal;stroke-width:0.45px" textLength="61.30" lengthAdjust="spacingAndGlyphs">Absorbance</text>
<text x="375.10" y="307.60" style="font-size:10.70px;font-weight:bold;stroke-width:0.05px" textLength="81.80" lengthAdjust="spacingAndGlyphs">Wavelength, nm</text>
<rect x="54.20" y="319.50" width="219.80" height="104.10" fill="none" stroke="#b8b8b8" stroke-width="1.4"/>
<line x1="54.20" y1="319.50" x2="54.20" y2="424.60" stroke="#8e8e8e" stroke-width="1.3"/>
<line x1="52.20" y1="423.60" x2="274.00" y2="423.60" stroke="#8e8e8e" stroke-width="1.3"/>
<line x1="52.00" y1="423.60" x2="54.20" y2="423.60" stroke="#888" stroke-width="1.2"/>
<text x="47.70" y="426.10" text-anchor="end" class="tl">0.00</text>
<line x1="52.00" y1="391.63" x2="54.20" y2="391.63" stroke="#888" stroke-width="1.2"/>
<text x="47.70" y="394.13" text-anchor="end" class="tl">0.20</text>
<line x1="52.00" y1="359.67" x2="54.20" y2="359.67" stroke="#888" stroke-width="1.2"/>
<text x="47.70" y="362.17" text-anchor="end" class="tl">0.40</text>
<line x1="52.00" y1="327.70" x2="54.20" y2="327.70" stroke="#888" stroke-width="1.2"/>
<text x="47.70" y="330.20" text-anchor="end" class="tl">0.60</text>
<line x1="54.20" y1="423.60" x2="54.20" y2="426.00" stroke="#888" stroke-width="1.2"/>
<text x="58.30" y="436.80" text-anchor="middle" class="tl">240</text>
<line x1="94.90" y1="423.60" x2="94.90" y2="426.00" stroke="#888" stroke-width="1.2"/>
<text x="99.00" y="436.80" text-anchor="middle" class="tl">280</text>
<line x1="135.60" y1="423.60" x2="135.60" y2="426.00" stroke="#888" stroke-width="1.2"/>
<text x="139.70" y="436.80" text-anchor="middle" class="tl">320</text>
<line x1="176.30" y1="423.60" x2="176.30" y2="426.00" stroke="#888" stroke-width="1.2"/>
<text x="180.40" y="436.80" text-anchor="middle" class="tl">345</text>
<line x1="217.00" y1="423.60" x2="217.00" y2="426.00" stroke="#888" stroke-width="1.2"/>
<text x="221.10" y="436.80" text-anchor="middle" class="tl">370</text>
<line x1="257.70" y1="423.60" x2="257.70" y2="426.00" stroke="#888" stroke-width="1.2"/>
<text x="261.80" y="436.80" text-anchor="middle" class="tl">395</text>

<path d="M58.30,397.23 L58.80,396.97 L59.30,396.71 L59.80,396.45 L60.30,396.20 L60.80,395.94 L61.30,395.69 L61.80,395.44 L62.30,395.19 L62.80,394.93 L63.30,394.68 L63.80,394.44 L64.30,394.19 L64.80,393.94 L65.30,393.69 L65.80,393.45 L66.30,393.20 L66.80,392.96 L67.30,392.72 L67.80,392.48 L68.30,392.25 L68.80,392.02 L69.30,391.79 L69.80,391.56 L70.30,391.34 L70.80,391.11 L71.30,390.89 L71.80,390.66 L72.30,390.44 L72.80,390.21 L73.30,389.98 L73.80,389.74 L74.30,389.51 L74.80,389.26 L75.30,389.02 L75.80,388.76 L76.30,388.49 L76.80,388.21 L77.30,387.90 L77.80,387.58 L78.30,387.25 L78.80,386.90 L79.30,386.53 L79.80,386.14 L80.30,385.74 L80.80,385.33 L81.30,384.83 L81.80,384.15 L82.30,383.31 L82.80,382.33 L83.30,381.24 L83.80,380.05 L84.30,378.75 L84.80,377.27 L85.30,375.64 L85.80,373.89 L86.30,372.06 L86.80,370.19 L87.30,368.31 L87.80,366.45 L88.30,364.65 L88.80,362.89 L89.30,361.09 L89.80,359.26 L90.30,357.43 L90.80,355.62 L91.30,353.84 L91.80,352.13 L92.30,350.50 L92.80,348.98 L93.30,347.49 L93.80,346.03 L94.30,344.60 L94.80,343.23 L95.30,341.96 L95.80,340.79 L96.30,339.75 L96.80,338.87 L97.30,338.13 L97.80,337.42 L98.30,336.78 L98.80,336.27 L99.30,335.94 L99.80,335.85 L100.30,335.96 L100.80,336.18 L101.30,336.49 L101.80,336.87 L102.30,337.32 L102.80,337.82 L103.30,338.35 L103.80,338.91 L104.30,339.51 L104.80,340.16 L105.30,340.84 L105.80,341.56 L106.30,342.31 L106.80,343.09 L107.30,343.88 L107.80,344.69 L108.30,345.51 L108.80,346.34 L109.30,347.17 L109.80,347.99 L110.30,348.82 L110.80,349.66 L111.30,350.51 L111.80,351.38 L112.30,352.26 L112.80,353.15 L113.30,354.06 L113.80,354.98 L114.30,355.91 L114.80,356.86 L115.30,357.82 L115.80,358.80 L116.30,359.79 L116.80,360.80 L117.30,361.84 L117.80,362.91 L118.30,364.01 L118.80,365.12 L119.30,366.25 L119.80,367.38 L120.30,368.52 L120.80,369.65 L121.30,370.78 L121.80,371.89 L122.30,372.98 L122.80,374.05 L123.30,375.09 L123.80,376.09 L124.30,377.06 L124.80,378.01 L125.30,378.95 L125.80,379.89 L126.30,380.83 L126.80,381.78 L127.30,382.76 L127.80,383.76 L128.30,384.79 L128.80,385.87 L129.30,387.00 L129.80,388.20 L130.30,389.47 L130.80,390.80 L131.30,392.19 L131.80,393.61 L132.30,395.05 L132.80,396.51 L133.30,397.96 L133.80,399.40 L134.30,400.88 L134.80,402.40 L135.30,403.93 L135.80,405.47 L136.30,406.99 L136.80,408.50 L137.30,409.96 L137.80,411.39 L138.30,412.88 L138.80,414.39 L139.30,415.86 L139.80,417.19 L140.30,418.30 L140.80,419.12 L141.30,419.75 L141.80,420.30 L142.30,420.77 L142.80,421.14 L143.30,421.40 L143.80,421.54 L144.30,421.64 L144.80,421.74 L145.30,421.84 L145.80,421.94 L146.30,422.03 L146.80,422.11 L147.30,422.19 L147.80,422.25 L148.30,422.29 L148.80,422.32 L149.30,422.32 L149.80,422.32 L150.30,422.31 L150.80,422.31 L151.30,422.30 L151.80,422.29 L152.30,422.29 L152.80,422.28 L153.30,422.28 L153.80,422.27 L154.30,422.26 L154.80,422.26 L155.30,422.25 L155.80,422.24 L156.30,422.24 L156.80,422.23 L157.30,422.23 L157.80,422.22 L158.30,422.21 L158.80,422.21 L159.30,422.20 L159.80,422.20 L160.30,422.19 L160.80,422.19 L161.30,422.18 L161.80,422.18 L162.30,422.17 L162.80,422.17 L163.30,422.17 L163.80,422.16 L164.30,422.16 L164.80,422.16 L165.30,422.16 L165.80,422.15 L166.30,422.15 L166.80,422.15 L167.30,422.15 L167.80,422.15 L168.30,422.14 L168.80,422.14 L169.30,422.14 L169.80,422.14 L170.30,422.13 L170.80,422.13 L171.30,422.13 L171.80,422.13 L172.30,422.12 L172.80,422.12 L173.30,422.12 L173.80,422.12 L174.30,422.11 L174.80,422.11 L175.30,422.11 L175.80,422.11 L176.30,422.10 L176.80,422.10 L177.30,422.10 L177.80,422.10 L178.30,422.10 L178.80,422.09 L179.30,422.09 L179.80,422.09 L180.30,422.09 L180.80,422.08 L181.30,422.08 L181.80,422.08 L182.30,422.08 L182.80,422.07 L183.30,422.07 L183.80,422.07 L184.30,422.07 L184.80,422.06 L185.30,422.06 L185.80,422.06 L186.30,422.06 L186.80,422.05 L187.30,422.05 L187.80,422.05 L188.30,422.05 L188.80,422.05 L189.30,422.04 L189.80,422.04 L190.30,422.04 L190.80,422.04 L191.30,422.04 L191.80,422.03 L192.30,422.03 L192.80,422.03 L193.30,422.03 L193.80,422.03 L194.30,422.03 L194.80,422.02 L195.30,422.02 L195.80,422.02 L196.30,422.02 L196.80,422.02 L197.30,422.02 L197.80,422.01 L198.30,422.01 L198.80,422.01 L199.30,422.01 L199.80,422.01 L200.30,422.01 L200.80,422.01 L201.30,422.01 L201.80,422.01 L202.30,422.00 L202.80,422.00 L203.30,422.00 L203.80,422.00 L204.30,422.00 L204.80,422.00 L205.30,422.00 L205.80,422.00 L206.30,422.00 L206.80,422.00 L207.30,422.00 L207.80,422.00 L208.30,422.00 L208.80,422.00 L209.30,422.00 L209.80,422.00 L210.30,421.99 L210.80,421.99 L211.30,421.99 L211.80,421.99 L212.30,421.99 L212.80,421.99 L213.30,421.99 L213.80,421.99 L214.30,421.99 L214.80,421.99 L215.30,421.99 L215.80,421.99 L216.30,421.99 L216.80,421.99 L217.30,421.99 L217.80,421.99 L218.30,421.99 L218.80,421.99 L219.30,421.99 L219.80,421.99 L220.30,421.99 L220.80,421.99 L221.30,421.99 L221.80,421.99 L222.30,421.98 L222.80,421.98 L223.30,421.98 L223.80,421.98 L224.30,421.98 L224.80,421.98 L225.30,421.98 L225.80,421.98 L226.30,421.98 L226.80,421.98 L227.30,421.98 L227.80,421.98 L228.30,421.98 L228.80,421.98 L229.30,421.98 L229.80,421.98 L230.30,421.98 L230.80,421.98 L231.30,421.98 L231.80,421.98 L232.30,421.98 L232.80,421.98 L233.30,421.98 L233.80,421.98 L234.30,421.98 L234.80,421.98 L235.30,421.98 L235.80,421.98 L236.30,421.98 L236.80,421.98 L237.30,421.98 L237.80,421.98 L238.30,421.98 L238.80,421.98 L239.30,421.98 L239.80,421.98 L240.30,421.98 L240.80,421.98 L241.30,421.98 L241.80,421.98 L242.30,421.98 L242.80,421.98 L243.30,421.98 L243.80,421.98 L244.30,421.98 L244.80,421.98 L245.30,421.98 L245.80,421.98 L246.30,421.98 L246.80,421.98 L247.30,421.98 L247.80,421.98 L248.30,421.98 L248.80,421.98 L249.30,421.98 L249.80,421.98 L250.30,421.98 L250.80,421.98 L251.30,421.98 L251.80,421.98 L252.30,421.98 L252.80,421.98 L253.30,421.98 L253.80,421.98 L254.30,421.98 L254.80,421.98 L255.30,421.99 L255.80,421.99 L256.30,421.99 L256.80,421.99 L257.30,421.99 L257.80,421.99 L258.30,421.99 L258.80,421.99 L259.30,421.99 L259.80,421.99 L260.30,421.99 L260.80,421.99 L261.30,421.99 L261.80,421.99 L262.30,421.99 L262.80,421.99 L263.30,421.99 L263.80,421.99 L264.30,421.99 L264.80,421.99 L265.30,422.00 L265.80,422.00 L266.30,422.00 L266.80,422.00 L267.30,422.00 L267.80,422.00 L268.30,422.00 L268.80,422.00 L269.30,422.00 L269.80,422.00 L270.10,422.00" fill="none" stroke="#ff1010" stroke-width="1.9" stroke-linejoin="round" stroke-linecap="round"/>

<text x="10.90" y="322.70" class="pl" textLength="13.60" lengthAdjust="spacingAndGlyphs">(E)</text>
<text transform="translate(26.50,392.30) rotate(-90)" text-anchor="middle" style="font-size:11.20px;font-weight:normal;stroke-width:0.45px" textLength="60.00" lengthAdjust="spacingAndGlyphs">Absorbance</text>
<text x="105.00" y="460.00" style="font-size:10.60px;font-weight:bold;stroke-width:0.05px" textLength="80.90" lengthAdjust="spacingAndGlyphs">Wavelength, nm</text>
<rect x="324.70" y="319.30" width="219.80" height="104.40" fill="none" stroke="#b8b8b8" stroke-width="1.4"/>
<line x1="324.70" y1="319.30" x2="324.70" y2="424.70" stroke="#8e8e8e" stroke-width="1.3"/>
<line x1="322.70" y1="423.70" x2="544.50" y2="423.70" stroke="#8e8e8e" stroke-width="1.3"/>
<line x1="322.50" y1="423.70" x2="324.70" y2="423.70" stroke="#888" stroke-width="1.2"/>
<text x="318.20" y="426.20" text-anchor="end" class="tl">0.00</text>
<line x1="322.50" y1="391.73" x2="324.70" y2="391.73" stroke="#888" stroke-width="1.2"/>
<text x="318.20" y="394.23" text-anchor="end" class="tl">0.20</text>
<line x1="322.50" y1="359.77" x2="324.70" y2="359.77" stroke="#888" stroke-width="1.2"/>
<text x="318.20" y="362.27" text-anchor="end" class="tl">0.40</text>
<line x1="322.50" y1="327.80" x2="324.70" y2="327.80" stroke="#888" stroke-width="1.2"/>
<text x="318.20" y="330.30" text-anchor="end" class="tl">0.60</text>
<line x1="324.70" y1="423.70" x2="324.70" y2="426.10" stroke="#888" stroke-width="1.2"/>
<text x="328.80" y="437.10" text-anchor="middle" class="tl">240</text>
<line x1="365.40" y1="423.70" x2="365.40" y2="426.10" stroke="#888" stroke-width="1.2"/>
<text x="369.50" y="437.10" text-anchor="middle" class="tl">280</text>
<line x1="406.10" y1="423.70" x2="406.10" y2="426.10" stroke="#888" stroke-width="1.2"/>
<text x="410.20" y="437.10" text-anchor="middle" class="tl">320</text>
<line x1="446.80" y1="423.70" x2="446.80" y2="426.10" stroke="#888" stroke-width="1.2"/>
<text x="450.90" y="437.10" text-anchor="middle" class="tl">345</text>
<line x1="487.50" y1="423.70" x2="487.50" y2="426.10" stroke="#888" stroke-width="1.2"/>
<text x="491.60" y="437.10" text-anchor="middle" class="tl">370</text>
<line x1="528.20" y1="423.70" x2="528.20" y2="426.10" stroke="#888" stroke-width="1.2"/>
<text x="532.30" y="437.10" text-anchor="middle" class="tl">395</text>

<path d="M329.10,386.30 L329.60,385.85 L330.10,385.41 L330.60,384.96 L331.10,384.52 L331.60,384.07 L332.10,383.62 L332.60,383.18 L333.10,382.73 L333.60,382.29 L334.10,381.84 L334.60,381.40 L335.10,380.95 L335.60,380.51 L336.10,380.07 L336.60,379.62 L337.10,379.18 L337.60,378.74 L338.10,378.30 L338.60,377.85 L339.10,377.41 L339.60,376.96 L340.10,376.51 L340.60,376.07 L341.10,375.62 L341.60,375.17 L342.10,374.71 L342.60,374.23 L343.10,373.73 L343.60,373.19 L344.10,372.60 L344.60,371.97 L345.10,371.30 L345.60,370.54 L346.10,369.69 L346.60,368.75 L347.10,367.73 L347.60,366.60 L348.10,365.40 L348.60,364.16 L349.10,362.91 L349.60,361.67 L350.10,360.37 L350.60,359.03 L351.10,357.71 L351.60,356.45 L352.10,355.29 L352.60,354.22 L353.10,353.18 L353.60,352.18 L354.10,351.21 L354.60,350.26 L355.10,349.34 L355.60,348.44 L356.10,347.56 L356.60,346.70 L357.10,345.85 L357.60,345.01 L358.10,344.18 L358.60,343.36 L359.10,342.55 L359.60,341.76 L360.10,340.99 L360.60,340.23 L361.10,339.50 L361.60,338.79 L362.10,338.09 L362.60,337.40 L363.10,336.71 L363.60,336.03 L364.10,335.37 L364.60,334.73 L365.10,334.12 L365.60,333.56 L366.10,333.05 L366.60,332.60 L367.10,332.18 L367.60,331.78 L368.10,331.41 L368.60,331.08 L369.10,330.80 L369.60,330.57 L370.10,330.40 L370.60,330.31 L371.10,330.29 L371.60,330.34 L372.10,330.46 L372.60,330.62 L373.10,330.84 L373.60,331.09 L374.10,331.37 L374.60,331.68 L375.10,332.01 L375.60,332.35 L376.10,332.79 L376.60,333.36 L377.10,334.05 L377.60,334.84 L378.10,335.70 L378.60,336.63 L379.10,337.59 L379.60,338.57 L380.10,339.56 L380.60,340.56 L381.10,341.67 L381.60,342.91 L382.10,344.24 L382.60,345.66 L383.10,347.13 L383.60,348.66 L384.10,350.21 L384.60,351.78 L385.10,353.39 L385.60,355.16 L386.10,357.09 L386.60,359.22 L387.10,361.57 L387.60,364.16 L388.10,367.00 L388.60,370.58 L389.10,375.39 L389.60,380.56 L390.10,385.18 L390.60,389.25 L391.10,393.20 L391.60,396.81 L392.10,399.84 L392.60,402.33 L393.10,404.61 L393.60,406.60 L394.10,408.18 L394.60,409.35 L395.10,410.45 L395.60,411.52 L396.10,412.54 L396.60,413.51 L397.10,414.42 L397.60,415.28 L398.10,416.06 L398.60,416.76 L399.10,417.39 L399.60,418.01 L400.10,418.61 L400.60,419.19 L401.10,419.74 L401.60,420.24 L402.10,420.68 L402.60,421.05 L403.10,421.41 L403.60,421.76 L404.10,422.05 L404.60,422.23 L405.10,422.29 L405.60,422.35 L406.10,422.40 L406.60,422.45 L407.10,422.49 L407.60,422.53 L408.10,422.56 L408.60,422.58 L409.10,422.59 L409.60,422.59 L410.10,422.57 L410.60,422.55 L411.10,422.53 L411.60,422.50 L412.10,422.48 L412.60,422.45 L413.10,422.43 L413.60,422.40 L414.10,422.38 L414.60,422.35 L415.10,422.33 L415.60,422.31 L416.10,422.29 L416.60,422.27 L417.10,422.26 L417.60,422.25 L418.10,422.24 L418.60,422.23 L419.10,422.21 L419.60,422.20 L420.10,422.19 L420.60,422.18 L421.10,422.17 L421.60,422.16 L422.10,422.15 L422.60,422.14 L423.10,422.13 L423.60,422.12 L424.10,422.11 L424.60,422.11 L425.10,422.11 L425.60,422.10 L426.10,422.10 L426.60,422.10 L427.10,422.10 L427.60,422.10 L428.10,422.10 L428.60,422.10 L429.10,422.10 L429.60,422.10 L430.10,422.10 L430.60,422.10 L431.10,422.10 L431.60,422.10 L432.10,422.10 L432.60,422.10 L433.10,422.10 L433.60,422.10 L434.10,422.10 L434.60,422.10 L435.10,422.10 L435.60,422.10 L436.10,422.10 L436.60,422.10 L437.10,422.10 L437.60,422.10 L438.10,422.10 L438.60,422.10 L439.10,422.10 L439.60,422.10 L440.10,422.10 L440.60,422.10 L441.10,422.10 L441.60,422.10 L442.10,422.10 L442.60,422.10 L443.10,422.10 L443.60,422.10 L444.10,422.10 L444.60,422.10 L445.10,422.10 L445.60,422.10 L446.10,422.10 L446.60,422.10 L447.10,422.10 L447.60,422.10 L448.10,422.10 L448.60,422.10 L449.10,422.10 L449.60,422.10 L450.10,422.10 L450.60,422.10 L451.10,422.10 L451.60,422.10 L452.10,422.10 L452.60,422.10 L453.10,422.10 L453.60,422.10 L454.10,422.10 L454.60,422.10 L455.10,422.10 L455.60,422.10 L456.10,422.10 L456.60,422.10 L457.10,422.10 L457.60,422.10 L458.10,422.10 L458.60,422.10 L459.10,422.10 L459.60,422.10 L460.10,422.10 L460.60,422.10 L461.10,422.10 L461.60,422.10 L462.10,422.10 L462.60,422.10 L463.10,422.10 L463.60,422.10 L464.10,422.10 L464.60,422.10 L465.10,422.10 L465.60,422.10 L466.10,422.10 L466.60,422.10 L467.10,422.10 L467.60,422.10 L468.10,422.10 L468.60,422.10 L469.10,422.10 L469.60,422.10 L470.10,422.10 L470.60,422.10 L471.10,422.10 L471.60,422.10 L472.10,422.10 L472.60,422.10 L473.10,422.10 L473.60,422.10 L474.10,422.10 L474.60,422.10 L475.10,422.10 L475.60,422.10 L476.10,422.10 L476.60,422.10 L477.10,422.10 L477.60,422.10 L478.10,422.10 L478.60,422.10 L479.10,422.10 L479.60,422.10 L480.10,422.10 L480.60,422.10 L481.10,422.10 L481.60,422.10 L482.10,422.10 L482.60,422.10 L483.10,422.10 L483.60,422.10 L484.10,422.10 L484.60,422.10 L485.10,422.10 L485.60,422.10 L486.10,422.10 L486.60,422.10 L487.10,422.10 L487.60,422.10 L488.10,422.10 L488.60,422.10 L489.10,422.10 L489.60,422.10 L490.10,422.10 L490.60,422.10 L491.10,422.10 L491.60,422.10 L492.10,422.10 L492.60,422.10 L493.10,422.10 L493.60,422.10 L494.10,422.10 L494.60,422.10 L495.10,422.10 L495.60,422.10 L496.10,422.10 L496.60,422.10 L497.10,422.10 L497.60,422.10 L498.10,422.10 L498.60,422.10 L499.10,422.10 L499.60,422.10 L500.10,422.10 L500.60,422.10 L501.10,422.10 L501.60,422.10 L502.10,422.10 L502.60,422.10 L503.10,422.10 L503.60,422.10 L504.10,422.10 L504.60,422.10 L505.10,422.10 L505.60,422.10 L506.10,422.10 L506.60,422.10 L507.10,422.10 L507.60,422.10 L508.10,422.10 L508.60,422.10 L509.10,422.10 L509.60,422.10 L510.10,422.10 L510.60,422.10 L511.10,422.10 L511.60,422.10 L512.10,422.10 L512.60,422.10 L513.10,422.10 L513.60,422.10 L514.10,422.10 L514.60,422.10 L515.10,422.10 L515.60,422.10 L516.10,422.10 L516.60,422.10 L517.10,422.10 L517.60,422.10 L518.10,422.10 L518.60,422.10 L519.10,422.10 L519.60,422.10 L520.10,422.10 L520.60,422.10 L521.10,422.10 L521.60,422.10 L522.10,422.10 L522.60,422.10 L523.10,422.10 L523.60,422.10 L524.10,422.10 L524.60,422.10 L525.10,422.10 L525.60,422.10 L526.10,422.10 L526.60,422.10 L527.10,422.10 L527.60,422.10 L528.10,422.10 L528.60,422.10 L529.10,422.10 L529.60,422.10 L530.10,422.10 L530.60,422.10 L531.10,422.10 L531.60,422.10 L532.10,422.10 L532.60,422.10 L533.10,422.10 L533.60,422.10 L534.10,422.10 L534.60,422.10 L535.10,422.10 L535.60,422.10 L536.10,422.10 L536.60,422.10 L537.10,422.10 L537.60,422.10 L538.10,422.10 L538.60,422.10 L539.10,422.10 L539.60,422.10 L540.10,422.10 L540.50,422.10" fill="none" stroke="#111" stroke-width="1.6" stroke-linejoin="round" stroke-linecap="round"/>
<path d="M328.40,399.41 L328.90,399.47 L329.40,399.53 L329.90,399.58 L330.40,399.61 L330.90,399.64 L331.40,399.65 L331.90,399.64 L332.40,399.63 L332.90,399.59 L333.40,399.55 L333.90,399.49 L334.40,399.41 L334.90,399.32 L335.40,399.21 L335.90,399.08 L336.40,398.92 L336.90,398.73 L337.40,398.53 L337.90,398.30 L338.40,398.06 L338.90,397.81 L339.40,397.55 L339.90,397.27 L340.40,397.00 L340.90,396.71 L341.40,396.43 L341.90,396.15 L342.40,395.86 L342.90,395.55 L343.40,395.22 L343.90,394.88 L344.40,394.54 L344.90,394.19 L345.40,393.83 L345.90,393.49 L346.40,393.15 L346.90,392.81 L347.40,392.50 L347.90,392.20 L348.40,391.95 L348.90,391.74 L349.40,391.55 L349.90,391.38 L350.40,391.19 L350.90,390.99 L351.40,390.76 L351.90,390.48 L352.40,390.13 L352.90,389.73 L353.40,389.27 L353.90,388.75 L354.40,388.18 L354.90,387.57 L355.40,386.91 L355.90,386.22 L356.40,385.50 L356.90,384.74 L357.40,383.96 L357.90,383.17 L358.40,382.35 L358.90,381.52 L359.40,380.69 L359.90,379.85 L360.40,379.01 L360.90,378.18 L361.40,377.35 L361.90,376.54 L362.40,375.75 L362.90,374.96 L363.40,374.15 L363.90,373.32 L364.40,372.47 L364.90,371.61 L365.40,370.74 L365.90,369.85 L366.40,368.94 L366.90,368.01 L367.40,366.94 L367.90,365.82 L368.40,364.80 L368.90,364.03 L369.40,363.49 L369.90,363.28 L370.40,363.37 L370.90,363.56 L371.40,363.83 L371.90,364.17 L372.40,364.56 L372.90,364.98 L373.40,365.45 L373.90,365.95 L374.40,366.48 L374.90,367.05 L375.40,367.63 L375.90,368.23 L376.40,368.85 L376.90,369.48 L377.40,370.11 L377.90,370.75 L378.40,371.38 L378.90,372.00 L379.40,372.64 L379.90,373.28 L380.40,373.93 L380.90,374.59 L381.40,375.25 L381.90,375.92 L382.40,376.60 L382.90,377.28 L383.40,377.96 L383.90,378.64 L384.40,379.33 L384.90,380.01 L385.40,380.69 L385.90,381.37 L386.40,382.04 L386.90,382.71 L387.40,383.36 L387.90,384.02 L388.40,384.67 L388.90,385.32 L389.40,385.98 L389.90,386.65 L390.40,387.32 L390.90,388.01 L391.40,388.71 L391.90,389.44 L392.40,390.18 L392.90,390.94 L393.40,391.73 L393.90,392.56 L394.40,393.43 L394.90,394.33 L395.40,395.26 L395.90,396.22 L396.40,397.19 L396.90,398.18 L397.40,399.18 L397.90,400.18 L398.40,401.19 L398.90,402.19 L399.40,403.18 L399.90,404.15 L400.40,405.10 L400.90,406.04 L401.40,407.01 L401.90,407.99 L402.40,408.98 L402.90,409.97 L403.40,410.95 L403.90,411.92 L404.40,412.87 L404.90,413.79 L405.40,414.67 L405.90,415.50 L406.40,416.27 L406.90,416.99 L407.40,417.67 L407.90,418.34 L408.40,418.99 L408.90,419.61 L409.40,420.17 L409.90,420.67 L410.40,421.08 L410.90,421.40 L411.40,421.60 L411.90,421.71 L412.40,421.82 L412.90,421.93 L413.40,422.03 L413.90,422.12 L414.40,422.21 L414.90,422.28 L415.40,422.34 L415.90,422.38 L416.40,422.41 L416.90,422.42 L417.40,422.42 L417.90,422.42 L418.40,422.42 L418.90,422.42 L419.40,422.42 L419.90,422.42 L420.40,422.42 L420.90,422.42 L421.40,422.42 L421.90,422.42 L422.40,422.42 L422.90,422.42 L423.40,422.42 L423.90,422.42 L424.40,422.42 L424.90,422.42 L425.40,422.42 L425.90,422.42 L426.40,422.42 L426.90,422.42 L427.40,422.42 L427.90,422.42 L428.40,422.42 L428.90,422.42 L429.40,422.42 L429.90,422.42 L430.40,422.42 L430.90,422.42 L431.40,422.42 L431.90,422.42 L432.40,422.42 L432.90,422.42 L433.40,422.42 L433.90,422.42 L434.40,422.42 L434.90,422.42 L435.40,422.42 L435.90,422.42 L436.40,422.42 L436.90,422.42 L437.40,422.42 L437.90,422.42 L438.40,422.42 L438.90,422.42 L439.40,422.42 L439.90,422.42 L440.40,422.42 L440.90,422.42 L441.40,422.42 L441.90,422.42 L442.40,422.42 L442.90,422.42 L443.40,422.42 L443.90,422.42 L444.40,422.42 L444.90,422.42 L445.40,422.42 L445.90,422.42 L446.40,422.42 L446.90,422.42 L447.40,422.42 L447.90,422.42 L448.40,422.42 L448.90,422.42 L449.40,422.42 L449.90,422.42 L450.40,422.42 L450.90,422.42 L451.40,422.42 L451.90,422.42 L452.40,422.42 L452.90,422.42 L453.40,422.42 L453.90,422.42 L454.40,422.42 L454.90,422.42 L455.40,422.42 L455.90,422.42 L456.40,422.42 L456.90,422.42 L457.40,422.42 L457.90,422.42 L458.40,422.42 L458.90,422.42 L459.40,422.42 L459.90,422.42 L460.40,422.42 L460.90,422.42 L461.40,422.42 L461.90,422.42 L462.40,422.42 L462.90,422.42 L463.40,422.42 L463.90,422.42 L464.40,422.42 L464.90,422.42 L465.40,422.42 L465.90,422.42 L466.40,422.42 L466.90,422.42 L467.40,422.42 L467.90,422.42 L468.40,422.42 L468.90,422.42 L469.40,422.42 L469.90,422.42 L470.40,422.42 L470.90,422.42 L471.40,422.42 L471.90,422.42 L472.40,422.42 L472.90,422.42 L473.40,422.42 L473.90,422.42 L474.40,422.42 L474.90,422.42 L475.40,422.42 L475.90,422.42 L476.40,422.42 L476.90,422.42 L477.40,422.42 L477.90,422.42 L478.40,422.42 L478.90,422.42 L479.40,422.42 L479.90,422.42 L480.40,422.42 L480.90,422.42 L481.40,422.42 L481.90,422.42 L482.40,422.42 L482.90,422.42 L483.40,422.42 L483.90,422.42 L484.40,422.42 L484.90,422.42 L485.40,422.42 L485.90,422.42 L486.40,422.42 L486.90,422.42 L487.40,422.42 L487.90,422.42 L488.40,422.42 L488.90,422.42 L489.40,422.42 L489.90,422.42 L490.40,422.42 L490.90,422.42 L491.40,422.42 L491.90,422.42 L492.40,422.42 L492.90,422.42 L493.40,422.42 L493.90,422.42 L494.40,422.42 L494.90,422.42 L495.40,422.42 L495.90,422.42 L496.40,422.42 L496.90,422.42 L497.40,422.42 L497.90,422.42 L498.40,422.42 L498.90,422.42 L499.40,422.42 L499.90,422.42 L500.40,422.42 L500.90,422.42 L501.40,422.42 L501.90,422.42 L502.40,422.42 L502.90,422.42 L503.40,422.42 L503.90,422.42 L504.40,422.42 L504.90,422.42 L505.40,422.42 L505.90,422.42 L506.40,422.42 L506.90,422.42 L507.40,422.42 L507.90,422.42 L508.40,422.42 L508.90,422.42 L509.40,422.42 L509.90,422.42 L510.40,422.42 L510.90,422.42 L511.40,422.42 L511.90,422.42 L512.40,422.42 L512.90,422.42 L513.40,422.42 L513.90,422.42 L514.40,422.42 L514.90,422.42 L515.40,422.42 L515.90,422.42 L516.40,422.42 L516.90,422.42 L517.40,422.42 L517.90,422.42 L518.40,422.42 L518.90,422.42 L519.40,422.42 L519.90,422.42 L520.40,422.42 L520.90,422.42 L521.40,422.42 L521.90,422.42 L522.40,422.42 L522.90,422.42 L523.40,422.42 L523.90,422.42 L524.40,422.42 L524.90,422.42 L525.40,422.42 L525.90,422.42 L526.40,422.42 L526.90,422.42 L527.40,422.42 L527.90,422.42 L528.40,422.42 L528.90,422.42 L529.40,422.42 L529.90,422.42 L530.40,422.42 L530.90,422.42 L531.40,422.42 L531.90,422.42 L532.40,422.42 L532.90,422.42 L533.40,422.42 L533.90,422.42 L534.40,422.42 L534.90,422.42 L535.40,422.42 L535.90,422.42 L536.40,422.42 L536.90,422.42 L537.40,422.42 L537.90,422.42 L538.40,422.42 L538.90,422.42 L539.40,422.42 L539.90,422.42 L540.20,422.42" fill="none" stroke="#109410" stroke-width="1.9" stroke-linejoin="round" stroke-linecap="round"/>
<path d="M328.40,399.41 L328.90,399.47 L329.40,399.53 L329.90,399.58 L330.40,399.61 L330.90,399.64 L331.40,399.65 L331.90,399.64 L332.40,399.63 L332.90,399.59 L333.40,399.55 L333.90,399.49 L334.40,399.41 L334.90,399.32 L335.40,399.21 L335.90,399.08 L336.40,398.92 L336.90,398.73 L337.40,398.53 L337.90,398.30 L338.40,398.06 L338.90,397.81 L339.40,397.55 L339.90,397.27 L340.40,397.00 L340.90,396.71 L341.40,396.43 L341.90,396.15 L342.40,395.86 L342.90,395.54 L343.40,395.22 L343.90,394.87 L344.40,394.53 L344.90,394.17 L345.40,393.82 L345.90,393.47 L346.40,393.13 L346.90,392.80 L347.40,392.49 L347.90,392.20 L348.40,391.95 L348.90,391.72 L349.40,391.51 L349.90,391.31 L350.40,391.11 L350.90,390.91 L351.40,390.68 L351.90,390.43 L352.40,390.13 L352.90,389.79 L353.40,389.39 L353.90,388.93 L354.40,388.43 L354.90,387.89 L355.40,387.32 L355.90,386.73 L356.40,386.13 L356.90,385.51 L357.40,384.90 L357.90,384.25 L358.40,383.54 L358.90,382.79 L359.40,381.99 L359.90,381.14 L360.40,380.24 L360.90,379.30 L361.40,378.31 L361.90,377.29 L362.40,376.20 L362.90,374.98 L363.40,373.64 L363.90,372.20 L364.40,370.69 L364.90,369.13 L365.40,367.56 L365.90,365.99 L366.40,364.40 L366.90,362.69 L367.40,360.95 L367.90,359.21 L368.40,357.56 L368.90,356.01 L369.40,354.37 L369.90,352.87 L370.40,351.92 L370.90,351.70 L371.40,351.74 L371.90,351.95 L372.40,352.29 L372.90,352.74 L373.40,353.25 L373.90,353.81 L374.40,354.39 L374.90,354.99 L375.40,355.62 L375.90,356.27 L376.40,356.94 L376.90,357.62 L377.40,358.30 L377.90,358.99 L378.40,359.68 L378.90,360.36 L379.40,361.04 L379.90,361.73 L380.40,362.42 L380.90,363.12 L381.40,363.82 L381.90,364.53 L382.40,365.25 L382.90,365.98 L383.40,366.72 L383.90,367.48 L384.40,368.24 L384.90,369.02 L385.40,369.81 L385.90,370.62 L386.40,371.44 L386.90,372.28 L387.40,373.14 L387.90,374.01 L388.40,374.91 L388.90,375.83 L389.40,376.77 L389.90,377.74 L390.40,378.73 L390.90,379.76 L391.40,380.82 L391.90,381.95 L392.40,383.16 L392.90,384.42 L393.40,385.74 L393.90,387.08 L394.40,388.44 L394.90,389.80 L395.40,391.16 L395.90,392.48 L396.40,393.77 L396.90,395.01 L397.40,396.20 L397.90,397.39 L398.40,398.58 L398.90,399.76 L399.40,400.94 L399.90,402.09 L400.40,403.24 L400.90,404.36 L401.40,405.46 L401.90,406.54 L402.40,407.58 L402.90,408.60 L403.40,409.57 L403.90,410.52 L404.40,411.47 L404.90,412.42 L405.40,413.36 L405.90,414.27 L406.40,415.15 L406.90,415.98 L407.40,416.76 L407.90,417.49 L408.40,418.14 L408.90,418.70 L409.40,419.20 L409.90,419.69 L410.40,420.17 L410.90,420.62 L411.40,421.02 L411.90,421.36 L412.40,421.61 L412.90,421.75 L413.40,421.79 L413.90,421.80 L414.40,421.81 L414.90,421.82 L415.40,421.83 L415.90,421.84 L416.40,421.85 L416.90,421.86 L417.40,421.87 L417.90,421.87 L418.40,421.88 L418.90,421.89 L419.40,421.90 L419.90,421.91 L420.40,421.91 L420.90,421.92 L421.40,421.92 L421.90,421.93 L422.40,421.93 L422.90,421.94 L423.40,421.94 L423.90,421.94 L424.40,421.94 L424.90,421.94 L425.40,421.95 L425.90,421.95 L426.40,421.95 L426.90,421.95 L427.40,421.95 L427.90,421.95 L428.40,421.96 L428.90,421.96 L429.40,421.96 L429.90,421.96 L430.40,421.96 L430.90,421.97 L431.40,421.97 L431.90,421.97 L432.40,421.97 L432.90,421.97 L433.40,421.98 L433.90,421.98 L434.40,421.98 L434.90,421.98 L435.40,421.98 L435.90,421.98 L436.40,421.99 L436.90,421.99 L437.40,421.99 L437.90,421.99 L438.40,421.99 L438.90,422.00 L439.40,422.00 L439.90,422.00 L440.40,422.00 L440.90,422.00 L441.40,422.01 L441.90,422.01 L442.40,422.01 L442.90,422.01 L443.40,422.01 L443.90,422.02 L444.40,422.02 L444.90,422.02 L445.40,422.02 L445.90,422.02 L446.40,422.03 L446.90,422.03 L447.40,422.03 L447.90,422.03 L448.40,422.03 L448.90,422.04 L449.40,422.04 L449.90,422.04 L450.40,422.04 L450.90,422.04 L451.40,422.05 L451.90,422.05 L452.40,422.05 L452.90,422.05 L453.40,422.05 L453.90,422.05 L454.40,422.06 L454.90,422.06 L455.40,422.06 L455.90,422.06 L456.40,422.06 L456.90,422.06 L457.40,422.07 L457.90,422.07 L458.40,422.07 L458.90,422.07 L459.40,422.07 L459.90,422.07 L460.40,422.08 L460.90,422.08 L461.40,422.08 L461.90,422.08 L462.40,422.08 L462.90,422.08 L463.40,422.08 L463.90,422.08 L464.40,422.09 L464.90,422.09 L465.40,422.09 L465.90,422.09 L466.40,422.09 L466.90,422.09 L467.40,422.09 L467.90,422.09 L468.40,422.09 L468.90,422.10 L469.40,422.10 L469.90,422.10 L470.40,422.10 L470.90,422.10 L471.40,422.10 L471.90,422.10 L472.40,422.10 L472.90,422.10 L473.40,422.10 L473.90,422.10 L474.40,422.10 L474.90,422.10 L475.40,422.10 L475.90,422.10 L476.40,422.10 L476.90,422.10 L477.40,422.10 L477.90,422.10 L478.40,422.10 L478.90,422.10 L479.40,422.10 L479.90,422.10 L480.40,422.11 L480.90,422.11 L481.40,422.11 L481.90,422.11 L482.40,422.11 L482.90,422.11 L483.40,422.11 L483.90,422.11 L484.40,422.11 L484.90,422.11 L485.40,422.11 L485.90,422.11 L486.40,422.11 L486.90,422.11 L487.40,422.11 L487.90,422.11 L488.40,422.11 L488.90,422.11 L489.40,422.11 L489.90,422.11 L490.40,422.11 L490.90,422.11 L491.40,422.11 L491.90,422.11 L492.40,422.11 L492.90,422.11 L493.40,422.11 L493.90,422.11 L494.40,422.11 L494.90,422.11 L495.40,422.11 L495.90,422.11 L496.40,422.11 L496.90,422.11 L497.40,422.11 L497.90,422.11 L498.40,422.11 L498.90,422.11 L499.40,422.11 L499.90,422.11 L500.40,422.11 L500.90,422.11 L501.40,422.11 L501.90,422.12 L502.40,422.12 L502.90,422.12 L503.40,422.12 L503.90,422.12 L504.40,422.12 L504.90,422.12 L505.40,422.12 L505.90,422.12 L506.40,422.12 L506.90,422.12 L507.40,422.12 L507.90,422.12 L508.40,422.12 L508.90,422.12 L509.40,422.12 L509.90,422.12 L510.40,422.12 L510.90,422.12 L511.40,422.12 L511.90,422.12 L512.40,422.12 L512.90,422.12 L513.40,422.12 L513.90,422.12 L514.40,422.12 L514.90,422.12 L515.40,422.12 L515.90,422.12 L516.40,422.12 L516.90,422.12 L517.40,422.12 L517.90,422.12 L518.40,422.12 L518.90,422.12 L519.40,422.12 L519.90,422.12 L520.40,422.12 L520.90,422.12 L521.40,422.12 L521.90,422.12 L522.40,422.11 L522.90,422.11 L523.40,422.11 L523.90,422.11 L524.40,422.11 L524.90,422.11 L525.40,422.11 L525.90,422.11 L526.40,422.11 L526.90,422.11 L527.40,422.11 L527.90,422.11 L528.40,422.11 L528.90,422.11 L529.40,422.11 L529.90,422.11 L530.40,422.11 L530.90,422.11 L531.40,422.11 L531.90,422.11 L532.40,422.11 L532.90,422.11 L533.40,422.11 L533.90,422.11 L534.40,422.11 L534.90,422.11 L535.40,422.11 L535.90,422.11 L536.40,422.11 L536.90,422.11 L537.40,422.10 L537.90,422.10 L538.40,422.10 L538.90,422.10 L539.40,422.10 L539.90,422.10 L540.30,422.10" fill="none" stroke="#0a0af8" stroke-width="1.9" stroke-linejoin="round" stroke-linecap="round"/>
<path d="M329.00,399.25 L329.50,399.34 L330.00,399.41 L330.50,399.47 L331.00,399.50 L331.50,399.51 L332.00,399.49 L332.50,399.44 L333.00,399.36 L333.50,399.24 L334.00,399.09 L334.50,398.89 L335.00,398.65 L335.50,398.35 L336.00,398.01 L336.50,397.64 L337.00,397.25 L337.50,396.85 L338.00,396.44 L338.50,396.03 L339.00,395.64 L339.50,395.27 L340.00,394.87 L340.50,394.47 L341.00,394.07 L341.50,393.66 L342.00,393.26 L342.50,392.87 L343.00,392.49 L343.50,392.13 L344.00,391.80 L344.50,391.50 L345.00,391.23 L345.50,391.00 L346.00,390.80 L346.50,390.61 L347.00,390.43 L347.50,390.26 L348.00,390.08 L348.50,389.89 L349.00,389.68 L349.50,389.44 L350.00,389.18 L350.50,388.87 L351.00,388.51 L351.50,388.12 L352.00,387.70 L352.50,387.25 L353.00,386.77 L353.50,386.27 L354.00,385.76 L354.50,385.23 L355.00,384.70 L355.50,384.13 L356.00,383.50 L356.50,382.80 L357.00,382.04 L357.50,381.21 L358.00,380.32 L358.50,379.37 L359.00,378.36 L359.50,377.29 L360.00,376.15 L360.50,374.84 L361.00,373.32 L361.50,371.65 L362.00,369.89 L362.50,368.09 L363.00,366.31 L363.50,364.58 L364.00,362.97 L364.50,361.32 L365.00,359.61 L365.50,357.90 L366.00,356.25 L366.50,354.72 L367.00,353.39 L367.50,352.30 L368.00,351.47 L368.50,350.71 L369.00,350.03 L369.50,349.43 L370.00,348.95 L370.50,348.60 L371.00,348.42 L371.50,348.42 L372.00,348.55 L372.50,348.75 L373.00,349.01 L373.50,349.33 L374.00,349.69 L374.50,350.09 L375.00,350.52 L375.50,350.98 L376.00,351.46 L376.50,351.99 L377.00,352.56 L377.50,353.15 L378.00,353.77 L378.50,354.42 L379.00,355.09 L379.50,355.78 L380.00,356.48 L380.50,357.19 L381.00,357.91 L381.50,358.63 L382.00,359.37 L382.50,360.14 L383.00,360.93 L383.50,361.74 L384.00,362.58 L384.50,363.44 L385.00,364.32 L385.50,365.23 L386.00,366.16 L386.50,367.11 L387.00,368.08 L387.50,369.08 L388.00,370.14 L388.50,371.29 L389.00,372.50 L389.50,373.75 L390.00,375.03 L390.50,376.32 L391.00,377.61 L391.50,378.87 L392.00,380.09 L392.50,381.25 L393.00,382.34 L393.50,383.33 L394.00,384.22 L394.50,385.04 L395.00,385.79 L395.50,386.49 L396.00,387.15 L396.50,387.79 L397.00,388.42 L397.50,389.05 L398.00,389.71 L398.50,390.39 L399.00,391.13 L399.50,391.93 L400.00,392.80 L400.50,393.77 L401.00,394.86 L401.50,396.08 L402.00,397.39 L402.50,398.78 L403.00,400.24 L403.50,401.81 L404.00,403.66 L404.50,405.71 L405.00,407.86 L405.50,410.01 L406.00,412.05 L406.50,413.87 L407.00,415.38 L407.50,416.55 L408.00,417.65 L408.50,418.69 L409.00,419.63 L409.50,420.44 L410.00,421.09 L410.50,421.54 L411.00,421.77 L411.50,421.82 L412.00,421.87 L412.50,421.92 L413.00,421.96 L413.50,422.01 L414.00,422.05 L414.50,422.08 L415.00,422.11 L415.50,422.14 L416.00,422.16 L416.50,422.18 L417.00,422.18 L417.50,422.18 L418.00,422.19 L418.50,422.19 L419.00,422.19 L419.50,422.19 L420.00,422.20 L420.50,422.20 L421.00,422.20 L421.50,422.21 L422.00,422.21 L422.50,422.21 L423.00,422.21 L423.50,422.22 L424.00,422.22 L424.50,422.22 L425.00,422.23 L425.50,422.23 L426.00,422.24 L426.50,422.24 L427.00,422.24 L427.50,422.25 L428.00,422.25 L428.50,422.25 L429.00,422.26 L429.50,422.26 L430.00,422.27 L430.50,422.27 L431.00,422.27 L431.50,422.28 L432.00,422.28 L432.50,422.29 L433.00,422.29 L433.50,422.30 L434.00,422.30 L434.50,422.30 L435.00,422.31 L435.50,422.31 L436.00,422.32 L436.50,422.32 L437.00,422.33 L437.50,422.33 L438.00,422.34 L438.50,422.34 L439.00,422.35 L439.50,422.35 L440.00,422.36 L440.50,422.36 L441.00,422.37 L441.50,422.37 L442.00,422.37 L442.50,422.38 L443.00,422.38 L443.50,422.39 L444.00,422.39 L444.50,422.40 L445.00,422.40 L445.50,422.41 L446.00,422.42 L446.50,422.42 L447.00,422.43 L447.50,422.43 L448.00,422.44 L448.50,422.44 L449.00,422.45 L449.50,422.45 L450.00,422.46 L450.50,422.46 L451.00,422.47 L451.50,422.47 L452.00,422.48 L452.50,422.48 L453.00,422.49 L453.50,422.49 L454.00,422.50 L454.50,422.50 L455.00,422.51 L455.50,422.51 L456.00,422.52 L456.50,422.52 L457.00,422.53 L457.50,422.53 L458.00,422.54 L458.50,422.54 L459.00,422.55 L459.50,422.56 L460.00,422.56 L460.50,422.57 L461.00,422.57 L461.50,422.58 L462.00,422.58 L462.50,422.59 L463.00,422.59 L463.50,422.60 L464.00,422.60 L464.50,422.61 L465.00,422.61 L465.50,422.62 L466.00,422.62 L466.50,422.62 L467.00,422.63 L467.50,422.63 L468.00,422.64 L468.50,422.64 L469.00,422.65 L469.50,422.65 L470.00,422.66 L470.50,422.66 L471.00,422.67 L471.50,422.67 L472.00,422.68 L472.50,422.68 L473.00,422.68 L473.50,422.69 L474.00,422.69 L474.50,422.70 L475.00,422.70 L475.50,422.71 L476.00,422.71 L476.50,422.71 L477.00,422.72 L477.50,422.72 L478.00,422.73 L478.50,422.73 L479.00,422.73 L479.50,422.74 L480.00,422.74 L480.50,422.74 L481.00,422.75 L481.50,422.75 L482.00,422.76 L482.50,422.76 L483.00,422.76 L483.50,422.76 L484.00,422.77 L484.50,422.77 L485.00,422.77 L485.50,422.78 L486.00,422.78 L486.50,422.78 L487.00,422.79 L487.50,422.79 L488.00,422.79 L488.50,422.79 L489.00,422.80 L489.50,422.80 L490.00,422.80 L490.50,422.80 L491.00,422.80 L491.50,422.81 L492.00,422.81 L492.50,422.81 L493.00,422.81 L493.50,422.81 L494.00,422.82 L494.50,422.82 L495.00,422.82 L495.50,422.82 L496.00,422.82 L496.50,422.82 L497.00,422.82 L497.50,422.82 L498.00,422.83 L498.50,422.83 L499.00,422.83 L499.50,422.83 L500.00,422.83 L500.50,422.83 L501.00,422.83 L501.50,422.83 L502.00,422.83 L502.50,422.83 L503.00,422.83 L503.50,422.83 L504.00,422.83 L504.50,422.83 L505.00,422.83 L505.50,422.83 L506.00,422.82 L506.50,422.82 L507.00,422.82 L507.50,422.82 L508.00,422.82 L508.50,422.82 L509.00,422.82 L509.50,422.82 L510.00,422.81 L510.50,422.81 L511.00,422.81 L511.50,422.81 L512.00,422.80 L512.50,422.80 L513.00,422.80 L513.50,422.80 L514.00,422.79 L514.50,422.79 L515.00,422.79 L515.50,422.78 L516.00,422.78 L516.50,422.78 L517.00,422.77 L517.50,422.77 L518.00,422.77 L518.50,422.76 L519.00,422.76 L519.50,422.75 L520.00,422.75 L520.50,422.74 L521.00,422.74 L521.50,422.73 L522.00,422.73 L522.50,422.72 L523.00,422.72 L523.50,422.71 L524.00,422.71 L524.50,422.70 L525.00,422.70 L525.50,422.69 L526.00,422.68 L526.50,422.68 L527.00,422.67 L527.50,422.66 L528.00,422.66 L528.50,422.65 L529.00,422.64 L529.50,422.63 L530.00,422.63 L530.50,422.62 L531.00,422.61 L531.50,422.60 L532.00,422.59 L532.50,422.58 L533.00,422.58 L533.50,422.57 L534.00,422.56 L534.50,422.55 L535.00,422.54 L535.50,422.53 L536.00,422.52 L536.50,422.51 L537.00,422.50 L537.50,422.49 L538.00,422.48 L538.50,422.47 L539.00,422.46 L539.50,422.45 L540.00,422.44 L540.50,422.42 L540.60,422.42" fill="none" stroke="#ff88ff" stroke-width="1.9" stroke-linejoin="round" stroke-linecap="round"/>
<path d="M328.80,397.33 L329.30,397.07 L329.80,396.81 L330.30,396.55 L330.80,396.30 L331.30,396.04 L331.80,395.79 L332.30,395.54 L332.80,395.29 L333.30,395.03 L333.80,394.78 L334.30,394.54 L334.80,394.29 L335.30,394.04 L335.80,393.79 L336.30,393.55 L336.80,393.30 L337.30,393.06 L337.80,392.82 L338.30,392.58 L338.80,392.35 L339.30,392.12 L339.80,391.89 L340.30,391.66 L340.80,391.44 L341.30,391.21 L341.80,390.99 L342.30,390.76 L342.80,390.54 L343.30,390.31 L343.80,390.08 L344.30,389.84 L344.80,389.61 L345.30,389.36 L345.80,389.12 L346.30,388.86 L346.80,388.59 L347.30,388.31 L347.80,388.00 L348.30,387.68 L348.80,387.35 L349.30,387.00 L349.80,386.63 L350.30,386.24 L350.80,385.84 L351.30,385.43 L351.80,384.93 L352.30,384.25 L352.80,383.41 L353.30,382.43 L353.80,381.34 L354.30,380.15 L354.80,378.85 L355.30,377.37 L355.80,375.74 L356.30,373.99 L356.80,372.16 L357.30,370.29 L357.80,368.41 L358.30,366.55 L358.80,364.75 L359.30,362.99 L359.80,361.19 L360.30,359.36 L360.80,357.53 L361.30,355.72 L361.80,353.94 L362.30,352.23 L362.80,350.60 L363.30,349.08 L363.80,347.59 L364.30,346.13 L364.80,344.70 L365.30,343.33 L365.80,342.06 L366.30,340.89 L366.80,339.85 L367.30,338.97 L367.80,338.23 L368.30,337.52 L368.80,336.88 L369.30,336.37 L369.80,336.04 L370.30,335.95 L370.80,336.06 L371.30,336.28 L371.80,336.59 L372.30,336.97 L372.80,337.42 L373.30,337.92 L373.80,338.45 L374.30,339.01 L374.80,339.61 L375.30,340.26 L375.80,340.94 L376.30,341.66 L376.80,342.41 L377.30,343.19 L377.80,343.98 L378.30,344.79 L378.80,345.61 L379.30,346.44 L379.80,347.27 L380.30,348.09 L380.80,348.92 L381.30,349.76 L381.80,350.61 L382.30,351.48 L382.80,352.36 L383.30,353.25 L383.80,354.16 L384.30,355.08 L384.80,356.01 L385.30,356.96 L385.80,357.92 L386.30,358.90 L386.80,359.89 L387.30,360.90 L387.80,361.94 L388.30,363.01 L388.80,364.11 L389.30,365.22 L389.80,366.35 L390.30,367.48 L390.80,368.62 L391.30,369.75 L391.80,370.88 L392.30,371.99 L392.80,373.08 L393.30,374.15 L393.80,375.19 L394.30,376.19 L394.80,377.16 L395.30,378.11 L395.80,379.05 L396.30,379.99 L396.80,380.93 L397.30,381.88 L397.80,382.86 L398.30,383.86 L398.80,384.89 L399.30,385.97 L399.80,387.10 L400.30,388.30 L400.80,389.57 L401.30,390.90 L401.80,392.29 L402.30,393.71 L402.80,395.15 L403.30,396.61 L403.80,398.06 L404.30,399.50 L404.80,400.98 L405.30,402.50 L405.80,404.03 L406.30,405.57 L406.80,407.09 L407.30,408.60 L407.80,410.06 L408.30,411.49 L408.80,412.98 L409.30,414.49 L409.80,415.96 L410.30,417.29 L410.80,418.40 L411.30,419.22 L411.80,419.85 L412.30,420.40 L412.80,420.87 L413.30,421.24 L413.80,421.50 L414.30,421.64 L414.80,421.74 L415.30,421.84 L415.80,421.94 L416.30,422.04 L416.80,422.13 L417.30,422.21 L417.80,422.29 L418.30,422.35 L418.80,422.39 L419.30,422.42 L419.80,422.42 L420.30,422.42 L420.80,422.41 L421.30,422.41 L421.80,422.40 L422.30,422.39 L422.80,422.39 L423.30,422.38 L423.80,422.38 L424.30,422.37 L424.80,422.36 L425.30,422.36 L425.80,422.35 L426.30,422.34 L426.80,422.34 L427.30,422.33 L427.80,422.33 L428.30,422.32 L428.80,422.31 L429.30,422.31 L429.80,422.30 L430.30,422.30 L430.80,422.29 L431.30,422.29 L431.80,422.28 L432.30,422.28 L432.80,422.27 L433.30,422.27 L433.80,422.27 L434.30,422.26 L434.80,422.26 L435.30,422.26 L435.80,422.26 L436.30,422.25 L436.80,422.25 L437.30,422.25 L437.80,422.25 L438.30,422.25 L438.80,422.24 L439.30,422.24 L439.80,422.24 L440.30,422.24 L440.80,422.23 L441.30,422.23 L441.80,422.23 L442.30,422.23 L442.80,422.22 L443.30,422.22 L443.80,422.22 L444.30,422.22 L444.80,422.21 L445.30,422.21 L445.80,422.21 L446.30,422.21 L446.80,422.20 L447.30,422.20 L447.80,422.20 L448.30,422.20 L448.80,422.20 L449.30,422.19 L449.80,422.19 L450.30,422.19 L450.80,422.19 L451.30,422.18 L451.80,422.18 L452.30,422.18 L452.80,422.18 L453.30,422.17 L453.80,422.17 L454.30,422.17 L454.80,422.17 L455.30,422.16 L455.80,422.16 L456.30,422.16 L456.80,422.16 L457.30,422.15 L457.80,422.15 L458.30,422.15 L458.80,422.15 L459.30,422.15 L459.80,422.14 L460.30,422.14 L460.80,422.14 L461.30,422.14 L461.80,422.14 L462.30,422.13 L462.80,422.13 L463.30,422.13 L463.80,422.13 L464.30,422.13 L464.80,422.13 L465.30,422.12 L465.80,422.12 L466.30,422.12 L466.80,422.12 L467.30,422.12 L467.80,422.12 L468.30,422.11 L468.80,422.11 L469.30,422.11 L469.80,422.11 L470.30,422.11 L470.80,422.11 L471.30,422.11 L471.80,422.11 L472.30,422.11 L472.80,422.10 L473.30,422.10 L473.80,422.10 L474.30,422.10 L474.80,422.10 L475.30,422.10 L475.80,422.10 L476.30,422.10 L476.80,422.10 L477.30,422.10 L477.80,422.10 L478.30,422.10 L478.80,422.10 L479.30,422.10 L479.80,422.10 L480.30,422.10 L480.80,422.09 L481.30,422.09 L481.80,422.09 L482.30,422.09 L482.80,422.09 L483.30,422.09 L483.80,422.09 L484.30,422.09 L484.80,422.09 L485.30,422.09 L485.80,422.09 L486.30,422.09 L486.80,422.09 L487.30,422.09 L487.80,422.09 L488.30,422.09 L488.80,422.09 L489.30,422.09 L489.80,422.09 L490.30,422.09 L490.80,422.09 L491.30,422.09 L491.80,422.09 L492.30,422.09 L492.80,422.08 L493.30,422.08 L493.80,422.08 L494.30,422.08 L494.80,422.08 L495.30,422.08 L495.80,422.08 L496.30,422.08 L496.80,422.08 L497.30,422.08 L497.80,422.08 L498.30,422.08 L498.80,422.08 L499.30,422.08 L499.80,422.08 L500.30,422.08 L500.80,422.08 L501.30,422.08 L501.80,422.08 L502.30,422.08 L502.80,422.08 L503.30,422.08 L503.80,422.08 L504.30,422.08 L504.80,422.08 L505.30,422.08 L505.80,422.08 L506.30,422.08 L506.80,422.08 L507.30,422.08 L507.80,422.08 L508.30,422.08 L508.80,422.08 L509.30,422.08 L509.80,422.08 L510.30,422.08 L510.80,422.08 L511.30,422.08 L511.80,422.08 L512.30,422.08 L512.80,422.08 L513.30,422.08 L513.80,422.08 L514.30,422.08 L514.80,422.08 L515.30,422.08 L515.80,422.08 L516.30,422.08 L516.80,422.08 L517.30,422.08 L517.80,422.08 L518.30,422.08 L518.80,422.08 L519.30,422.08 L519.80,422.08 L520.30,422.08 L520.80,422.08 L521.30,422.08 L521.80,422.08 L522.30,422.08 L522.80,422.08 L523.30,422.08 L523.80,422.08 L524.30,422.08 L524.80,422.08 L525.30,422.08 L525.80,422.09 L526.30,422.09 L526.80,422.09 L527.30,422.09 L527.80,422.09 L528.30,422.09 L528.80,422.09 L529.30,422.09 L529.80,422.09 L530.30,422.09 L530.80,422.09 L531.30,422.09 L531.80,422.09 L532.30,422.09 L532.80,422.09 L533.30,422.09 L533.80,422.09 L534.30,422.09 L534.80,422.09 L535.30,422.09 L535.80,422.10 L536.30,422.10 L536.80,422.10 L537.30,422.10 L537.80,422.10 L538.30,422.10 L538.80,422.10 L539.30,422.10 L539.80,422.10 L540.30,422.10 L540.60,422.10" fill="none" stroke="#ff1010" stroke-width="1.9" stroke-linejoin="round" stroke-linecap="round"/>
<line x1="375.30" y1="330.40" x2="422.50" y2="330.60" stroke="#a0a0a0" stroke-width="1.1"/>
<line x1="371.00" y1="339.10" x2="415.40" y2="340.40" stroke="#a0a0a0" stroke-width="1.1"/>
<line x1="376.90" y1="350.40" x2="415.70" y2="351.40" stroke="#a0a0a0" stroke-width="1.1"/>
<line x1="380.10" y1="361.00" x2="424.30" y2="362.60" stroke="#a0a0a0" stroke-width="1.1"/>
<line x1="380.00" y1="372.40" x2="424.50" y2="373.50" stroke="#a0a0a0" stroke-width="1.1"/>
<path d="M375.30,330.40 L377.36,329.17 L377.35,331.65 Z" fill="#555"/>
<text x="426.00" y="332.30" class="lg" textLength="59.60" lengthAdjust="spacingAndGlyphs">Native Fibrinogen</text>
<path d="M371.00,339.10 L373.09,337.92 L373.02,340.40 Z" fill="#555"/>
<text x="419.00" y="342.40" class="lg" textLength="90.60" lengthAdjust="spacingAndGlyphs">AP100 + ONOO<tspan dy="-3.2" style="font-size:3.6px">-</tspan><tspan dy="3.2"> Fibrinogen</tspan></text>
<path d="M376.90,350.40 L378.99,349.22 L378.92,351.69 Z" fill="#555"/>
<text x="419.00" y="353.60" class="lg" textLength="86.60" lengthAdjust="spacingAndGlyphs">AP75 + ONOO<tspan dy="-3.2" style="font-size:3.6px">-</tspan><tspan dy="3.2"> Fibrinogen</tspan></text>
<path d="M380.10,361.00 L382.20,359.84 L382.11,362.31 Z" fill="#555"/>
<text x="427.60" y="365.00" class="lg" textLength="86.40" lengthAdjust="spacingAndGlyphs">AP50 + ONOO<tspan dy="-3.2" style="font-size:3.6px">-</tspan><tspan dy="3.2"> Fibrinogen</tspan></text>
<path d="M380.00,372.40 L382.09,371.21 L382.03,373.69 Z" fill="#555"/>
<text x="428.40" y="375.60" class="lg" textLength="61.20" lengthAdjust="spacingAndGlyphs">ONOO<tspan dy="-3.2" style="font-size:3.6px">-</tspan><tspan dy="3.2"> Fibrinogen</tspan></text>
<text x="287.00" y="324.90" class="pl" textLength="12.40" lengthAdjust="spacingAndGlyphs">(F)</text>
<text transform="translate(297.20,392.50) rotate(-90)" text-anchor="middle" style="font-size:11.60px;font-weight:normal;stroke-width:0.45px" textLength="61.90" lengthAdjust="spacingAndGlyphs">Absorbance</text>
<text x="375.00" y="460.60" style="font-size:10.70px;font-weight:bold;stroke-width:0.05px" textLength="82.00" lengthAdjust="spacingAndGlyphs">Wavelength, nm</text>
</svg>
</body></html>
